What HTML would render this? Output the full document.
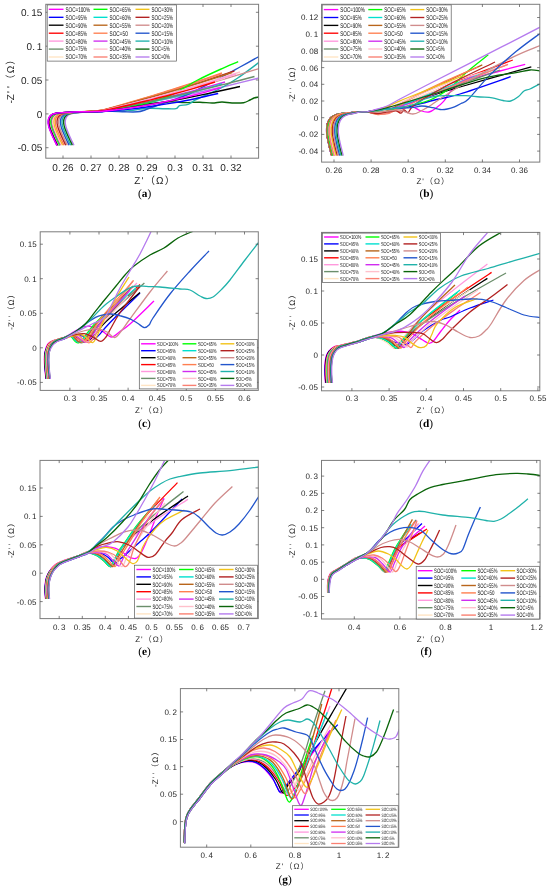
<!DOCTYPE html>
<html><head><meta charset="utf-8"><title>EIS Nyquist plots at different SOC</title>
<style>html,body{margin:0;padding:0;background:#fff}svg{display:block}text{text-rendering:geometricPrecision}</style></head>
<body><svg width="550" height="890" viewBox="0 0 550 890">
<rect width="550" height="890" fill="#fff"/>
<clipPath id="ca"><rect x="45.8" y="4.3" width="212.8" height="153.9"/></clipPath>
<g clip-path="url(#ca)" fill="none" stroke-width="1.4" stroke-linejoin="round" stroke-linecap="butt">
<path d="M73.9 145.3C73.5 144.4 72.3 141.9 71.4 140C70.5 138.1 69.5 135.9 68.7 134C67.9 132.1 67.1 130.2 66.5 128.5C65.9 126.8 65.5 125 65.3 123.5C65.1 122 65.2 120.7 65.5 119.5C65.8 118.3 66.3 117.2 67 116.3C67.7 115.4 68.7 114.7 69.7 114.2C70.7 113.7 71.6 113.5 73.2 113.2C74.8 112.9 76.6 112.8 79.2 112.6C81.8 112.4 84.8 112 88.6 111.8C92.4 111.6 94.5 112.2 102 111.2C109.5 110.1 122.9 107.5 133.4 105.6C143.9 103.6 154.3 101.6 164.8 99.4C175.3 97.3 185.7 95.1 196.2 92.8C206.7 90.5 217.1 88.1 227.6 85.7C238.1 83.2 253.8 79.3 259 78" stroke="#B57BEE"/>
<path d="M72.3 145.3C71.9 144.4 70.7 141.9 69.8 140C68.9 138.1 67.9 135.9 67.1 134C66.3 132.1 65.5 130.2 64.9 128.5C64.3 126.8 63.9 125 63.7 123.5C63.5 122 63.6 120.7 63.9 119.5C64.2 118.3 64.7 117.2 65.4 116.3C66.1 115.4 67.1 114.7 68.1 114.2C69.1 113.7 70 113.5 71.6 113.2C73.2 112.9 74.9 112.8 77.6 112.6C80.3 112.4 84.1 112.1 87.8 111.8C91.5 111.5 95.5 111.1 100 110.6C104.5 110.1 110 109.8 115 109C120 108.2 124.2 106.9 130 106C135.8 105.1 143.3 104.2 150 103.5C156.7 102.8 164.2 102.1 170 101.9C175.8 101.8 180 102.5 185 102.6C190 102.6 195.5 102.1 200 102.2C204.5 102.3 208.3 103 212 103C215.7 103 218.7 102 222 102C225.3 102 228.4 102.9 232 103C235.6 103.1 240.6 103.2 243.6 102.7C246.6 102.2 248.3 100.8 250 100C251.7 99.2 252.5 98.5 254 98C255.5 97.5 258.2 97.2 259 97" stroke="#0A640A"/>
<path d="M70.7 145.3C70.3 144.4 69.1 141.9 68.2 140C67.3 138.1 66.3 135.9 65.5 134C64.7 132.1 63.9 130.2 63.3 128.5C62.7 126.8 62.3 125 62.1 123.5C61.9 122 62 120.7 62.3 119.5C62.6 118.3 63.1 117.2 63.8 116.3C64.5 115.4 65.5 114.7 66.5 114.2C67.5 113.7 68.4 113.5 70 113.2C71.6 112.9 73.2 112.8 76 112.6C78.8 112.4 83 112.1 87 111.8C91 111.5 95.3 111.1 100 111C104.7 110.9 110 111.1 115 111C120 110.9 124.6 111 130 110.6C135.4 110.1 141.7 108.6 147.5 108.3C153.3 108 160.2 108.7 165 108.7C169.8 108.8 173.6 109.1 176 108.6C178.4 108.1 177.5 106.3 179.5 105.6C181.5 104.9 185.4 105.3 188 104.4C190.6 103.5 191.8 101.9 195 100.2C198.2 98.5 202.8 96.5 207 94.5C211.2 92.5 215.2 91.2 220.2 88.5C225.2 85.8 230.5 82.8 237 78.5C243.5 74.2 255.3 65.1 259 62.4" stroke="#20B2AA"/>
<path d="M69.1 145.3C68.7 144.4 67.5 141.9 66.6 140C65.7 138.1 64.7 135.9 63.9 134C63.1 132.1 62.3 130.2 61.7 128.5C61.1 126.8 60.7 125 60.5 123.5C60.3 122 60.4 120.7 60.7 119.5C61 118.3 61.5 117.2 62.2 116.3C62.9 115.4 63.9 114.7 64.9 114.2C65.9 113.7 66.8 113.5 68.4 113.2C70 112.9 71.4 112.8 74.4 112.6C77.4 112.4 81.9 112.1 86.2 111.8C90.5 111.5 95.7 111.1 100 111C104.3 110.9 107.8 111.2 112 111.3C116.2 111.4 120.7 111.7 125 111.8C129.3 111.9 134.3 112.1 137.6 111.8C140.9 111.5 142.9 110.6 145 110C147.1 109.4 145.8 109.5 150 108C154.2 106.5 163.3 103.4 170 101C176.7 98.6 181.7 97.3 190 93.5C198.3 89.7 211.7 82.4 220 78C228.3 73.6 233.5 70.6 240 67C246.5 63.4 255.8 58.2 259 56.5" stroke="#2255CC"/>
<path d="M67.3 145.3C66.9 144.4 65.7 141.9 64.8 140C63.9 138.1 62.9 135.9 62.1 134C61.3 132.1 60.5 130.2 59.9 128.5C59.3 126.8 58.9 125 58.7 123.5C58.5 122 58.6 120.7 58.9 119.5C59.2 118.3 59.7 117.2 60.4 116.3C61.1 115.4 62.1 114.7 63.1 114.2C64.1 113.7 65 113.5 66.6 113.2C68.2 112.9 69.5 112.8 72.6 112.6C75.7 112.4 80.4 112.1 85.3 111.8C90.2 111.5 94 112 102 110.6C110 109.2 122.9 105.9 133.4 103.4C143.9 100.8 154.3 98.2 164.8 95.5C175.3 92.8 185.7 90 196.2 87.1C206.7 84.2 217.1 81.2 227.6 78.2C238.1 75.1 253.8 70.2 259 68.6" stroke="#D08C8C"/>
<path d="M65.7 145.3C65.3 144.4 64.1 141.9 63.2 140C62.3 138.1 61.3 135.9 60.5 134C59.7 132.1 58.9 130.2 58.3 128.5C57.7 126.8 57.3 125 57.1 123.5C56.9 122 57 120.7 57.3 119.5C57.6 118.3 58.1 117.2 58.8 116.3C59.5 115.4 60.5 114.7 61.5 114.2C62.5 113.7 63.4 113.5 65 113.2C66.6 112.9 67.8 112.8 71 112.6C74.2 112.4 79.3 112.2 84.5 111.8C89.7 111.4 94.7 111.7 102 110.3C109.3 108.9 119.7 105.8 128.5 103.4C137.3 101 146.1 98.6 155 96C163.8 93.5 172.6 90.9 181.4 88.2C190.3 85.5 199.1 82.7 207.9 79.8C216.7 77 230 72.5 234.4 71" stroke="#B22222"/>
<path d="M62.5 145.3C62.1 144.4 60.9 141.9 60 140C59.1 138.1 58.1 135.9 57.3 134C56.5 132.1 55.7 130.2 55.1 128.5C54.5 126.8 54.1 125 53.9 123.5C53.7 122 53.8 120.7 54.1 119.5C54.4 118.3 54.9 117.2 55.6 116.3C56.3 115.4 57.3 114.7 58.3 114.2C59.3 113.7 60.2 113.5 61.8 113.2C63.4 112.9 64.3 112.8 67.8 112.6C71.3 112.4 77.2 112.2 82.9 111.8C88.6 111.4 95.4 111.5 102 110.3C108.6 109.1 115.7 106.6 122.6 104.6C129.5 102.7 136.3 100.7 143.2 98.7C150.1 96.7 156.9 94.7 163.8 92.6C170.7 90.5 177.5 88.3 184.4 86.2C191.3 84 201.6 80.6 205 79.5" stroke="#F2C318"/>
<path d="M60.5 145.3C60.1 144.4 58.9 141.9 58 140C57.1 138.1 56.1 135.9 55.3 134C54.5 132.1 53.7 130.2 53.1 128.5C52.5 126.8 52.1 125 51.9 123.5C51.7 122 51.8 120.7 52.1 119.5C52.4 118.3 52.9 117.2 53.6 116.3C54.3 115.4 55.3 114.7 56.3 114.2C57.3 113.7 58.2 113.5 59.8 113.2C61.4 112.9 62.1 112.8 65.8 112.6C69.5 112.4 75.9 112.2 81.9 111.8C87.9 111.4 94.7 111.6 102 110.2C109.3 108.9 117.9 106 125.8 103.8C133.7 101.5 141.7 99.2 149.6 96.9C157.5 94.5 165.5 92.1 173.4 89.6C181.3 87.2 189.3 84.6 197.2 82C205.1 79.4 217 75.3 221 74" stroke="#FA8072"/>
<path d="M61.2 145.3C60.8 144.4 59.6 141.9 58.7 140C57.8 138.1 56.8 135.9 56 134C55.2 132.1 54.4 130.2 53.8 128.5C53.2 126.8 52.8 125 52.6 123.5C52.4 122 52.5 120.7 52.8 119.5C53.1 118.3 53.6 117.2 54.3 116.3C55 115.4 56 114.7 57 114.2C58 113.7 58.9 113.5 60.5 113.2C62.1 112.9 62.9 112.8 66.5 112.6C70.1 112.4 76.3 112.2 82.2 111.8C88.2 111.4 94.1 111.8 102 110.5C109.9 109.1 120.4 106 129.6 103.7C138.8 101.4 148 98.9 157.2 96.4C166.4 94 175.6 91.4 184.8 88.7C194 86.1 203.2 83.4 212.4 80.6C221.6 77.8 235.4 73.4 240 72" stroke="#FFC0CB"/>
<path d="M59.9 145.3C59.5 144.4 58.3 141.9 57.4 140C56.5 138.1 55.5 135.9 54.7 134C53.9 132.1 53.1 130.2 52.5 128.5C51.9 126.8 51.5 125 51.3 123.5C51.1 122 51.2 120.7 51.5 119.5C51.8 118.3 52.3 117.2 53 116.3C53.7 115.4 54.7 114.7 55.7 114.2C56.7 113.7 57.6 113.5 59.2 113.2C60.8 112.9 61.5 112.8 65.2 112.6C68.9 112.4 75.5 112.1 81.6 111.8C87.7 111.5 94.5 111.8 102 110.9C109.5 110 118.4 107.9 126.6 106.3C134.8 104.7 143 102.9 151.2 101.1C159.4 99.3 167.6 97.3 175.8 95.3C184 93.3 192.2 91.2 200.4 88.9C208.6 86.7 220.9 83.2 225 82" stroke="#D02CF0"/>
<path d="M64 145.3C63.6 144.4 62.4 141.9 61.5 140C60.6 138.1 59.6 135.9 58.8 134C58 132.1 57.2 130.2 56.6 128.5C56 126.8 55.6 125 55.4 123.5C55.2 122 55.3 120.7 55.6 119.5C55.9 118.3 56.4 117.2 57.1 116.3C57.8 115.4 58.8 114.7 59.8 114.2C60.8 113.7 61.7 113.5 63.3 113.2C64.9 112.9 65.9 112.8 69.3 112.6C72.7 112.4 78.2 112.2 83.7 111.8C89.1 111.4 94.9 111.6 102 110.2C109.1 108.8 118 105.7 126 103.4C134 101.1 142 98.7 150 96.3C158 93.8 166 91.4 174 88.8C182 86.3 190 83.7 198 81.1C206 78.4 218 74.3 222 73" stroke="#FF7F50"/>
<path d="M59.7 145.3C59.3 144.4 58.1 141.9 57.2 140C56.3 138.1 55.3 135.9 54.5 134C53.7 132.1 52.9 130.2 52.3 128.5C51.7 126.8 51.3 125 51.1 123.5C50.9 122 51 120.7 51.3 119.5C51.6 118.3 52.1 117.2 52.8 116.3C53.5 115.4 54.5 114.7 55.5 114.2C56.5 113.7 57.4 113.5 59 113.2C60.6 112.9 61.2 112.8 65 112.6C68.8 112.4 75.3 112.2 81.5 111.8C87.7 111.4 94.2 111.7 102 110.4C109.8 109 119.3 105.9 128 103.6C136.7 101.2 145.3 98.8 154 96.4C162.7 93.9 171.3 91.4 180 88.8C188.7 86.2 197.3 83.6 206 80.8C214.7 78.1 227.7 73.9 232 72.5" stroke="#B8651B"/>
<path d="M59.3 145.3C58.9 144.4 57.7 141.9 56.8 140C55.9 138.1 54.9 135.9 54.1 134C53.3 132.1 52.5 130.2 51.9 128.5C51.3 126.8 50.9 125 50.7 123.5C50.5 122 50.6 120.7 50.9 119.5C51.2 118.3 51.7 117.2 52.4 116.3C53.1 115.4 54.1 114.7 55.1 114.2C56.1 113.7 57 113.5 58.6 113.2C60.2 112.9 60.8 112.8 64.6 112.6C68.4 112.4 75.1 112.1 81.3 111.8C87.5 111.5 94.5 111.8 102 111C109.5 110.2 118 108.5 126 107C134 105.6 142 104 150 102.3C158 100.6 166 98.8 174 96.9C182 95 190 93 198 90.8C206 88.7 218 85.1 222 84" stroke="#00E0D0"/>
<path d="M58.9 145.3C58.5 144.4 57.3 141.9 56.4 140C55.5 138.1 54.5 135.9 53.7 134C52.9 132.1 52.1 130.2 51.5 128.5C50.9 126.8 50.5 125 50.3 123.5C50.1 122 50.2 120.7 50.5 119.5C50.8 118.3 51.3 117.2 52 116.3C52.7 115.4 53.7 114.7 54.7 114.2C55.7 113.7 56.6 113.5 58.2 113.2C59.8 112.9 60.4 112.8 64.2 112.6C68 112.4 74.8 112.1 81.1 111.8C87.4 111.5 92.2 112.2 102 111C111.8 109.8 128.7 107.1 140 104.5C151.3 101.9 160.5 99.5 170 95.5C179.5 91.5 188.5 84.8 196.8 80.5C205.1 76.2 213.1 72.6 220 69.5C226.9 66.4 235.2 63 238.2 61.7" stroke="#00FF00"/>
<path d="M58.1 145.3C57.7 144.4 56.5 141.9 55.6 140C54.7 138.1 53.7 135.9 52.9 134C52.1 132.1 51.3 130.2 50.7 128.5C50.1 126.8 49.7 125 49.5 123.5C49.3 122 49.4 120.7 49.7 119.5C50 118.3 50.5 117.2 51.2 116.3C51.9 115.4 52.9 114.7 53.9 114.2C54.9 113.7 55.8 113.5 57.4 113.2C59 112.9 59.5 112.8 63.4 112.6C67.3 112.4 74.3 112.1 80.7 111.8C87.1 111.5 94.3 111.8 102 110.6C109.7 109.5 118.4 106.9 126.6 104.9C134.8 102.9 143 100.8 151.2 98.7C159.4 96.6 167.6 94.4 175.8 92.2C184 90 192.2 87.7 200.4 85.3C208.6 82.9 220.9 79.2 225 78" stroke="#FFE4C4"/>
<path d="M57.9 145.3C57.5 144.4 56.3 141.9 55.4 140C54.5 138.1 53.5 135.9 52.7 134C51.9 132.1 51.1 130.2 50.5 128.5C49.9 126.8 49.5 125 49.3 123.5C49.1 122 49.2 120.7 49.5 119.5C49.8 118.3 50.3 117.2 51 116.3C51.7 115.4 52.7 114.7 53.7 114.2C54.7 113.7 55.6 113.5 57.2 113.2C58.8 112.9 59.3 112.8 63.2 112.6C67.1 112.4 74.1 112.1 80.6 111.8C87.1 111.5 93.3 112.1 102 111C110.7 109.9 122.3 107.2 132.5 105.1C142.7 103.1 152.8 101 163 98.7C173.2 96.5 183.3 94.2 193.5 91.8C203.7 89.5 213.8 87 224 84.4C234.2 81.9 249.4 77.8 254.5 76.5" stroke="#6B8E6B"/>
<path d="M57.7 145.3C57.3 144.4 56.1 141.9 55.2 140C54.3 138.1 53.3 135.9 52.5 134C51.7 132.1 50.9 130.2 50.3 128.5C49.7 126.8 49.3 125 49.1 123.5C48.9 122 49 120.7 49.3 119.5C49.6 118.3 50.1 117.2 50.8 116.3C51.5 115.4 52.5 114.7 53.5 114.2C54.5 113.7 55.4 113.5 57 113.2C58.6 112.9 59.1 112.8 63 112.6C66.9 112.4 74 112.1 80.5 111.8C87 111.5 94 111.8 102 110.6C110 109.3 119.9 106.5 128.8 104.3C137.7 102.1 146.7 99.8 155.6 97.5C164.5 95.1 173.5 92.7 182.4 90.2C191.3 87.6 200.3 85 209.2 82.3C218.1 79.6 231.5 75.4 236 74" stroke="#FF99DD"/>
<path d="M57.5 145.3C57.1 144.4 55.9 141.9 55 140C54.1 138.1 53.1 135.9 52.3 134C51.5 132.1 50.7 130.2 50.1 128.5C49.5 126.8 49.1 125 48.9 123.5C48.7 122 48.8 120.7 49.1 119.5C49.4 118.3 49.9 117.2 50.6 116.3C51.3 115.4 52.3 114.7 53.3 114.2C54.3 113.7 55.2 113.5 56.8 113.2C58.4 112.9 58.9 112.8 62.8 112.6C66.7 112.4 73.9 112.1 80.4 111.8C86.9 111.5 94.6 111.7 102 110.7C109.4 109.8 117.1 107.7 124.6 106C132.1 104.4 139.7 102.6 147.2 100.8C154.7 98.9 162.3 97 169.8 95C177.3 93 184.9 90.9 192.4 88.8C199.9 86.6 211.2 83.1 215 82" stroke="#FF0000"/>
<path d="M57.2 145.3C56.8 144.4 55.6 141.9 54.7 140C53.8 138.1 52.8 135.9 52 134C51.2 132.1 50.4 130.2 49.8 128.5C49.2 126.8 48.8 125 48.6 123.5C48.4 122 48.5 120.7 48.8 119.5C49.1 118.3 49.6 117.2 50.3 116.3C51 115.4 52 114.7 53 114.2C54 113.7 54.9 113.5 56.5 113.2C58.1 112.9 58.5 112.8 62.5 112.6C66.5 112.4 73.7 112 80.2 111.8C86.8 111.6 93.8 112.2 102 111.5C110.2 110.8 120.4 109 129.6 107.6C138.8 106.2 148 104.8 157.2 103.2C166.4 101.6 175.6 100 184.8 98.2C194 96.5 203.2 94.6 212.4 92.6C221.6 90.7 235.4 87.5 240 86.5" stroke="#000000"/>
<path d="M57 145.3C56.6 144.4 55.4 141.9 54.5 140C53.6 138.1 52.6 135.9 51.8 134C51 132.1 50.2 130.2 49.6 128.5C49 126.8 48.6 125 48.4 123.5C48.2 122 48.3 120.7 48.6 119.5C48.9 118.3 49.4 117.2 50.1 116.3C50.8 115.4 51.8 114.7 52.8 114.2C53.8 113.7 54.7 113.5 56.3 113.2C57.9 112.9 58.3 112.8 62.3 112.6C66.3 112.4 73.5 111.9 80.2 111.8C86.8 111.7 94.5 112.1 102 111.7C109.5 111.3 117.5 110.4 125.2 109.6C133 108.8 140.7 107.8 148.5 106.7C156.2 105.6 164 104.4 171.7 103.1C179.5 101.7 187.2 100.3 195 98.7C202.7 97.1 214.3 94.4 218.2 93.5" stroke="#0000FF"/>
<path d="M56.7 145.3C56.3 144.4 55.1 141.9 54.2 140C53.3 138.1 52.3 135.9 51.5 134C50.7 132.1 49.9 130.2 49.3 128.5C48.7 126.8 48.3 125 48.1 123.5C47.9 122 48 120.7 48.3 119.5C48.6 118.3 49.1 117.2 49.8 116.3C50.5 115.4 51.5 114.7 52.5 114.2C53.5 113.7 54.4 113.5 56 113.2C57.6 112.9 58 112.8 62 112.6C66 112.4 73.3 112 80 111.8C86.7 111.6 94.4 111.8 102 111.3C109.6 110.7 117.9 109.6 125.8 108.5C133.7 107.4 141.7 106.1 149.6 104.7C157.5 103.3 165.5 101.8 173.4 100C181.3 98.3 189.3 96.4 197.2 94.3C205.1 92.3 217 88.8 221 87.7" stroke="#FF00FF"/>
</g>
<rect x="45.8" y="4.3" width="212.8" height="153.9" fill="none" stroke="#7c7c7c" stroke-width="1"/>
<path d="M63 158.2v-2.7 M63 4.3v2.7M91 158.2v-2.7 M91 4.3v2.7M119 158.2v-2.7 M119 4.3v2.7M147 158.2v-2.7 M147 4.3v2.7M175 158.2v-2.7 M175 4.3v2.7M203 158.2v-2.7 M203 4.3v2.7M231 158.2v-2.7 M231 4.3v2.7M45.8 12.3h2.7 M258.6 12.3h-2.7M45.8 46.2h2.7 M258.6 46.2h-2.7M45.8 80h2.7 M258.6 80h-2.7M45.8 113.9h2.7 M258.6 113.9h-2.7M45.8 147.7h2.7 M258.6 147.7h-2.7" stroke="#4a4a4a" stroke-width="0.7" fill="none"/>
<g fill="#262626" font-family='"Liberation Sans","Noto Sans CJK SC",sans-serif'>
<text x="63" y="170.6" font-size="10" text-anchor="middle">0.<tspan dx="1.8">26</tspan></text>
<text x="91" y="170.6" font-size="10" text-anchor="middle">0.<tspan dx="1.8">27</tspan></text>
<text x="119" y="170.6" font-size="10" text-anchor="middle">0.<tspan dx="1.8">28</tspan></text>
<text x="147" y="170.6" font-size="10" text-anchor="middle">0.<tspan dx="1.8">29</tspan></text>
<text x="175" y="170.6" font-size="10" text-anchor="middle">0.<tspan dx="1.8">3</tspan></text>
<text x="203" y="170.6" font-size="10" text-anchor="middle">0.<tspan dx="1.8">31</tspan></text>
<text x="231" y="170.6" font-size="10" text-anchor="middle">0.<tspan dx="1.8">32</tspan></text>
<text x="42.3" y="15.9" font-size="10" text-anchor="end">0.<tspan dx="1.8">15</tspan></text>
<text x="42.3" y="49.8" font-size="10" text-anchor="end">0.<tspan dx="1.8">1</tspan></text>
<text x="42.3" y="83.6" font-size="10" text-anchor="end">0.<tspan dx="1.8">05</tspan></text>
<text x="42.3" y="117.5" font-size="10" text-anchor="end">0</text>
<text x="42.3" y="151.3" font-size="10" text-anchor="end">-0.<tspan dx="1.8">05</tspan></text>
<text x="154.5" y="183.9" font-size="10" text-anchor="middle">Z<tspan dx="1.2">'</tspan><tspan dx="1.5">（</tspan><tspan dx="1.2">Ω</tspan><tspan dx="1.2">）</tspan></text>
<text transform="translate(14.3 79.1) rotate(-90)" font-size="10" text-anchor="middle">-Z<tspan dx="1.2">'</tspan><tspan dx="3">'</tspan><tspan dx="1.5">（</tspan><tspan dx="1.2">Ω</tspan><tspan dx="1.2">）</tspan></text>
</g>
<text x="144.6" y="196.7" font-family='"Liberation Serif",serif' font-size="11.3" text-anchor="middle" fill="#000">(<tspan font-weight="bold">a</tspan>)</text>
<rect x="47.2" y="4.9" width="129.3" height="56.2" fill="#fff" stroke="#5a5a5a" stroke-width="0.7"/>
<g font-family='"Liberation Sans","Noto Sans CJK SC",sans-serif' font-size="6.8" fill="#111">
<path d="M48.8 9.3h14.7" stroke="#FF00FF" stroke-width="1.35"/>
<text x="65.5" y="11.7" textLength="24.5" lengthAdjust="spacingAndGlyphs">SOC=100%</text>
<path d="M48.8 17.3h14.7" stroke="#0000FF" stroke-width="1.35"/>
<text x="65.5" y="19.6" textLength="21.4" lengthAdjust="spacingAndGlyphs">SOC=95%</text>
<path d="M48.8 25.2h14.7" stroke="#000000" stroke-width="1.35"/>
<text x="65.5" y="27.6" textLength="21.4" lengthAdjust="spacingAndGlyphs">SOC=90%</text>
<path d="M48.8 33.2h14.7" stroke="#FF0000" stroke-width="1.35"/>
<text x="65.5" y="35.5" textLength="21.4" lengthAdjust="spacingAndGlyphs">SOC=85%</text>
<path d="M48.8 41.1h14.7" stroke="#FF99DD" stroke-width="1.35"/>
<text x="65.5" y="43.5" textLength="21.4" lengthAdjust="spacingAndGlyphs">SOC=80%</text>
<path d="M48.8 49.1h14.7" stroke="#6B8E6B" stroke-width="1.35"/>
<text x="65.5" y="51.4" textLength="21.4" lengthAdjust="spacingAndGlyphs">SOC=75%</text>
<path d="M48.8 57h14.7" stroke="#FFE4C4" stroke-width="1.35"/>
<text x="65.5" y="59.3" textLength="21.4" lengthAdjust="spacingAndGlyphs">SOC=70%</text>
<path d="M93.5 9.3h14" stroke="#00FF00" stroke-width="1.35"/>
<text x="109.5" y="11.7" textLength="21.4" lengthAdjust="spacingAndGlyphs">SOC=65%</text>
<path d="M93.5 17.3h14" stroke="#00E0D0" stroke-width="1.35"/>
<text x="109.5" y="19.6" textLength="21.4" lengthAdjust="spacingAndGlyphs">SOC=60%</text>
<path d="M93.5 25.2h14" stroke="#B8651B" stroke-width="1.35"/>
<text x="109.5" y="27.6" textLength="21.4" lengthAdjust="spacingAndGlyphs">SOC=55%</text>
<path d="M93.5 33.2h14" stroke="#FF7F50" stroke-width="1.35"/>
<text x="109.5" y="35.5" textLength="18.3" lengthAdjust="spacingAndGlyphs">SOC=50</text>
<path d="M93.5 41.1h14" stroke="#D02CF0" stroke-width="1.35"/>
<text x="109.5" y="43.5" textLength="21.4" lengthAdjust="spacingAndGlyphs">SOC=45%</text>
<path d="M93.5 49.1h14" stroke="#FFC0CB" stroke-width="1.35"/>
<text x="109.5" y="51.4" textLength="21.4" lengthAdjust="spacingAndGlyphs">SOC=40%</text>
<path d="M93.5 57h14" stroke="#FA8072" stroke-width="1.35"/>
<text x="109.5" y="59.3" textLength="21.4" lengthAdjust="spacingAndGlyphs">SOC=35%</text>
<path d="M135.5 9.3h14" stroke="#F2C318" stroke-width="1.35"/>
<text x="151.5" y="11.7" textLength="21.4" lengthAdjust="spacingAndGlyphs">SOC=30%</text>
<path d="M135.5 17.3h14" stroke="#B22222" stroke-width="1.35"/>
<text x="151.5" y="19.6" textLength="21.4" lengthAdjust="spacingAndGlyphs">SOC=25%</text>
<path d="M135.5 25.2h14" stroke="#D08C8C" stroke-width="1.35"/>
<text x="151.5" y="27.6" textLength="21.4" lengthAdjust="spacingAndGlyphs">SOC=20%</text>
<path d="M135.5 33.2h14" stroke="#2255CC" stroke-width="1.35"/>
<text x="151.5" y="35.5" textLength="21.4" lengthAdjust="spacingAndGlyphs">SOC=15%</text>
<path d="M135.5 41.1h14" stroke="#20B2AA" stroke-width="1.35"/>
<text x="151.5" y="43.5" textLength="21.4" lengthAdjust="spacingAndGlyphs">SOC=10%</text>
<path d="M135.5 49.1h14" stroke="#0A640A" stroke-width="1.35"/>
<text x="151.5" y="51.4" textLength="18.3" lengthAdjust="spacingAndGlyphs">SOC=5%</text>
<path d="M135.5 57h14" stroke="#B57BEE" stroke-width="1.35"/>
<text x="151.5" y="59.3" textLength="18.3" lengthAdjust="spacingAndGlyphs">SOC=0%</text>
</g>
<clipPath id="cb"><rect x="321.6" y="4.3" width="218.2" height="157.8"/></clipPath>
<g clip-path="url(#cb)" fill="none" stroke-width="1.3" stroke-linejoin="round" stroke-linecap="butt">
<path d="M331.5 155.6C331 153.7 329.4 147.8 328.6 144C327.8 140.2 326.8 136.3 326.6 133C326.4 129.7 326.6 126.5 327.2 124C327.8 121.5 329.1 119.3 330.5 117.8C331.9 116.3 333.6 115.5 335.5 114.8C337.4 114.1 339.4 113.9 341.8 113.5C344.2 113.1 346.6 112.9 350 112.6C353.4 112.3 359.2 112 362 111.9C364.8 111.8 364.8 112.1 367 111.8C369.2 111.5 371.7 110.8 375 110C378.3 109.2 382.8 107.6 387 107C391.2 106.4 395.7 106.5 400 106.5C404.3 106.5 409.4 106.1 412.7 106.8C416 107.5 417.3 109.6 420 110.5C422.7 111.4 426.3 112.5 429 112C431.7 111.5 434 109.5 436.4 107.7C438.8 105.9 440.9 104.5 443.6 101.4C446.3 98.3 449.1 92.2 452.7 89C456.3 85.8 460.6 84 465 82C469.4 80 473.2 78.5 479 76.7C484.8 74.9 492.3 73.1 500 71C507.7 68.9 521 65.4 525.2 64.3" stroke="#FF00FF"/>
<path d="M331.6 155.6C331.1 153.7 329.5 147.8 328.7 144C327.8 140.2 326.9 136.3 326.7 133C326.4 129.7 326.6 126.5 327.2 124C327.9 121.5 329.2 119.3 330.6 117.8C331.9 116.3 333.7 115.5 335.6 114.8C337.4 114.1 339.4 113.9 341.9 113.5C344.3 113.1 346.7 112.9 350 112.6C353.4 112.3 359.2 112 362 111.9C364.8 111.8 364 112 367 111.8C370 111.6 375.8 111.3 380 110.8C384.2 110.3 387.8 109.5 392 109C396.2 108.5 398.7 109.1 405.5 107.7C412.3 106.3 423.6 102.8 432.7 100.5C441.8 98.2 447 98 460 94C473 90 502.2 79.6 510.7 76.7" stroke="#0000FF"/>
<path d="M331.6 155.6C331.1 153.7 329.5 147.8 328.7 144C327.9 140.2 326.9 136.3 326.7 133C326.5 129.7 326.7 126.5 327.3 124C327.9 121.5 329.2 119.3 330.6 117.8C332 116.3 333.7 115.5 335.6 114.8C337.5 114.1 339.5 113.9 341.9 113.5C344.3 113.1 346.7 112.9 350.1 112.6C353.4 112.3 359.2 112 362 111.9C364.8 111.8 364 112.1 367 111.8C370 111.5 374.5 111.3 380 110.3C385.5 109.2 386.7 109.4 400 105.5C413.3 101.6 438.1 93.4 460 87C481.9 80.6 519.4 70.2 531.3 66.9" stroke="#000000"/>
<path d="M331.6 155.6C331.2 153.7 329.6 147.8 328.8 144C327.9 140.2 327 136.3 326.8 133C326.5 129.7 326.7 126.5 327.3 124C328 121.5 329.3 119.3 330.6 117.8C332 116.3 333.8 115.5 335.6 114.8C337.5 114.1 339.5 113.9 341.9 113.5C344.4 113.1 346.7 112.9 350.1 112.6C353.4 112.3 359.2 112 362 111.9C364.8 111.8 364 111.9 367 111.8C370 111.7 374.5 112.4 380 111.2C385.5 110 391.7 107.5 400 104.5C408.3 101.5 420 97.1 430 93C440 88.9 446.2 85.5 460 80C473.8 74.5 504 63.3 512.8 60" stroke="#FF0000"/>
<path d="M331.7 155.6C331.2 153.7 329.6 147.8 328.8 144C328 140.2 327 136.3 326.8 133C326.6 129.7 326.8 126.5 327.4 124C328 121.5 329.3 119.3 330.7 117.8C332.1 116.3 333.8 115.5 335.7 114.8C337.6 114.1 339.6 113.9 342 113.5C344.4 113.1 346.8 112.9 350.1 112.6C353.5 112.3 359.2 112 362 111.9C364.8 111.8 364 111.8 367 111.8C370 111.8 374.5 112.7 380 111.6C385.5 110.5 388.3 109.4 400 105C411.7 100.6 432 91.8 450 85C468 78.2 498.3 67.8 508 64.3" stroke="#FF99DD"/>
<path d="M331.8 155.6C331.3 153.7 329.7 147.8 328.9 144C328 140.2 327.1 136.3 326.9 133C326.6 129.7 326.8 126.5 327.4 124C328.1 121.5 329.4 119.3 330.8 117.8C332.1 116.3 333.9 115.5 335.8 114.8C337.6 114.1 339.7 113.9 342.1 113.5C344.4 113.1 346.8 112.9 350.1 112.6C353.5 112.3 359.2 112 362 111.9C364.8 111.8 364 112 367 111.8C370 111.6 374.5 111.6 380 110.5C385.5 109.4 388.3 108.8 400 105C411.7 101.2 433.3 93.8 450 88C466.7 82.2 491.7 73 500 70" stroke="#6B8E6B"/>
<path d="M331.8 155.6C331.3 153.7 329.7 147.8 328.9 144C328.1 140.2 327.1 136.3 326.9 133C326.7 129.7 326.9 126.5 327.5 124C328.1 121.5 329.4 119.3 330.8 117.8C332.2 116.3 333.9 115.5 335.8 114.8C337.7 114.1 339.7 113.9 342.1 113.5C344.5 113.1 346.9 112.9 350.2 112.6C353.5 112.3 359.2 112 362 111.9C364.8 111.8 364 111.8 367 111.8C370 111.8 374.5 113.3 380 112C385.5 110.7 390.8 107.6 400 104C409.2 100.4 423.3 94.8 435 90.5C446.7 86.2 464.2 80.1 470 78" stroke="#FFE4C4"/>
<path d="M332.8 155.6C332.3 153.7 330.7 147.8 329.9 144C329.1 140.2 328.1 136.3 327.9 133C327.7 129.7 327.9 126.5 328.5 124C329.1 121.5 330.4 119.3 331.8 117.8C333.2 116.3 334.9 115.5 336.8 114.8C338.7 114.1 340.8 113.9 343.1 113.5C345.4 113.1 347.6 112.9 350.8 112.6C353.9 112.3 359.3 112 362 111.9C364.7 111.8 364 112 367 111.8C370 111.6 374.5 111.6 380 111C385.5 110.4 391.7 109.8 400 108C408.3 106.2 421.7 103.3 430 100C438.3 96.7 444 92.5 450 88C456 83.5 459.6 78.2 466 72.7C472.4 67.2 484.6 57.8 488.3 54.8" stroke="#00FF00"/>
<path d="M331.9 155.6C331.4 153.7 329.8 147.8 329 144C328.1 140.2 327.2 136.3 327 133C326.7 129.7 326.9 126.5 327.6 124C328.2 121.5 329.5 119.3 330.9 117.8C332.2 116.3 334 115.5 335.9 114.8C337.7 114.1 339.8 113.9 342.2 113.5C344.5 113.1 346.9 112.9 350.2 112.6C353.5 112.3 359.2 112 362 111.9C364.8 111.8 364 112.1 367 111.8C370 111.5 374.5 111 380 110C385.5 109 389.2 109.7 400 106C410.8 102.3 429.4 94.2 445 88C460.6 81.8 485.5 72 493.6 68.8" stroke="#00E0D0"/>
<path d="M331.7 155.6C331.2 153.7 329.6 147.8 328.8 144C328 140.2 327 136.3 326.8 133C326.6 129.7 326.8 126.5 327.4 124C328 121.5 329.3 119.3 330.7 117.8C332.1 116.3 333.8 115.5 335.7 114.8C337.6 114.1 339.6 113.9 342 113.5C344.4 113.1 346.8 112.9 350.1 112.6C353.5 112.3 359.2 112 362 111.9C364.8 111.8 364.3 111.6 367 111.8C369.7 112 374.2 113.3 378 113C381.8 112.7 386.3 111.5 390 110C393.7 108.5 391.7 108.2 400 104C408.3 99.8 426.3 91 440 84.5C453.7 78 475.2 68.1 482.3 64.8" stroke="#B8651B"/>
<path d="M334.1 155.6C333.6 153.7 332 147.8 331.2 144C330.4 140.2 329.4 136.3 329.2 133C329 129.7 329.2 126.5 329.8 124C330.4 121.5 331.7 119.3 333.1 117.8C334.5 116.3 336.2 115.5 338.1 114.8C340 114.1 342.2 113.9 344.4 113.5C346.6 113.1 348.6 112.9 351.6 112.6C354.5 112.3 359.4 112 362 111.9C364.6 111.8 364.3 111.3 367 111.8C369.7 112.2 374.2 114.5 378 114.6C381.8 114.7 386.3 113.8 390 112.5C393.7 111.2 396.7 108.8 400 106.5C403.3 104.2 403.3 102.3 410 98.5C416.7 94.7 428.7 88.8 440 83.5C451.3 78.2 471.7 69.8 478 67" stroke="#FF7F50"/>
<path d="M334.5 155.6C334 153.7 332.4 147.8 331.6 144C330.8 140.2 329.8 136.3 329.6 133C329.4 129.7 329.6 126.5 330.2 124C330.8 121.5 332.1 119.3 333.5 117.8C334.9 116.3 336.6 115.5 338.5 114.8C340.4 114.1 342.6 113.9 344.8 113.5C347 113.1 348.9 112.9 351.8 112.6C354.7 112.3 359.5 112 362 111.9C364.5 111.8 364 112.1 367 111.8C370 111.5 374.5 110.9 380 110C385.5 109.1 390 109.5 400 106.5C410 103.5 427.5 97.2 440 92C452.5 86.8 469.2 77.8 475 75" stroke="#D02CF0"/>
<path d="M335 155.6C334.5 153.7 332.9 147.8 332.1 144C331.3 140.2 330.3 136.3 330.1 133C329.9 129.7 330.1 126.5 330.7 124C331.3 121.5 332.6 119.3 334 117.8C335.4 116.3 337.1 115.5 339 114.8C340.9 114.1 343.1 113.9 345.3 113.5C347.5 113.1 349.3 112.9 352.1 112.6C354.9 112.3 359.5 112 362 111.9C364.5 111.8 364 111.7 367 111.8C370 111.9 374.5 113.9 380 112.4C385.5 110.9 388.3 108 400 103C411.7 98 432.5 88.7 450 82.5C467.5 76.3 495.8 68.8 505 66" stroke="#FFC0CB"/>
<path d="M333.9 155.6C333.4 153.7 331.8 147.8 331 144C330.2 140.2 329.2 136.3 329 133C328.8 129.7 328.9 126.5 329.6 124C330.2 121.5 331.5 119.3 332.9 117.8C334.3 116.3 336 115.5 337.9 114.8C339.8 114.1 341.9 113.9 344.2 113.5C346.5 113.1 348.5 112.9 351.4 112.6C354.4 112.3 359.4 112 362 111.9C364.6 111.8 364.3 111.5 367 111.8C369.7 112.1 374.5 113.7 378 114C381.5 114.3 385.2 114.1 388 113.5C390.8 112.9 393 110.8 395 110.5C397 110.2 398.3 111.9 400 111.5C401.7 111.1 402.5 109.6 405 108C407.5 106.4 407.5 105.5 415 102C422.5 98.5 434.5 93.3 450 87C465.5 80.7 498.3 68.1 508 64.3" stroke="#FA8072"/>
<path d="M336.1 155.6C335.6 153.7 334 147.8 333.2 144C332.4 140.2 331.4 136.3 331.2 133C331 129.7 331.2 126.5 331.8 124C332.4 121.5 333.7 119.3 335.1 117.8C336.5 116.3 338.2 115.5 340.1 114.8C342 114.1 344.3 113.9 346.4 113.5C348.5 113.1 350.2 112.9 352.8 112.6C355.4 112.3 359.6 112 362 111.9C364.4 111.8 364 112.2 367 111.8C370 111.4 374.5 111.4 380 109.6C385.5 107.8 391.3 104.4 400 100.8C408.7 97.2 421.2 92.3 432 88C442.8 83.7 459.5 77.2 465 75" stroke="#F2C318"/>
<path d="M337.3 155.6C336.8 153.7 335.2 147.8 334.4 144C333.6 140.2 332.6 136.3 332.4 133C332.2 129.7 332.4 126.5 333 124C333.6 121.5 334.9 119.3 336.3 117.8C337.7 116.3 339.4 115.5 341.3 114.8C343.2 114.1 345.6 113.9 347.6 113.5C349.6 113.1 351.1 112.9 353.5 112.6C355.9 112.3 359.7 112 362 111.9C364.3 111.8 364.3 111.5 367 111.8C369.7 112.1 374.2 113.6 378 113.6C381.8 113.5 387 112 390 111.5C393 111 394.2 110.5 396 110.8C397.8 111.1 399.7 113.3 401 113.2C402.3 113.1 402.8 110.1 404 110C405.2 109.9 406.7 113 408 112.5C409.3 112 410 108.9 412 107C414 105.1 413.7 104.8 420 101C426.3 97.2 437.5 90.5 450 84C462.5 77.5 487.5 65.7 495 62" stroke="#B22222"/>
<path d="M338.5 155.6C338 153.7 336.4 147.8 335.6 144C334.8 140.2 333.8 136.3 333.6 133C333.4 129.7 333.6 126.5 334.2 124C334.8 121.5 336.1 119.3 337.5 117.8C338.9 116.3 340.6 115.5 342.5 114.8C344.4 114.1 346.9 113.9 348.8 113.5C350.8 113.1 352 112.9 354.2 112.6C356.4 112.3 359.9 112 362 111.9C364.1 111.8 364 111.8 367 111.8C370 111.8 375.8 112.2 380 112C384.2 111.8 388.7 110.8 392 110.5C395.3 110.2 396.6 109.4 400 110C403.4 110.6 409.1 113.9 412.7 114C416.3 114.1 418.6 112.1 421.8 110.5C425 108.9 429 106.4 432 104.5C435 102.6 433.7 103.1 440 99C446.3 94.9 457.8 87 470 80C482.2 73 501.7 62.6 513.4 56.9C525.1 51.2 535.6 47.5 540 45.6" stroke="#D08C8C"/>
<path d="M339.7 155.6C339.2 153.7 337.6 147.8 336.8 144C336 140.2 335 136.3 334.8 133C334.6 129.7 334.8 126.5 335.4 124C336 121.5 337.3 119.3 338.7 117.8C340.1 116.3 341.8 115.5 343.7 114.8C345.6 114.1 348.1 113.9 350 113.5C351.9 113.1 352.9 112.9 354.9 112.6C356.9 112.3 360 112 362 111.9C364 111.8 364 112.2 367 111.8C370 111.4 375.3 110.2 380 109.6C384.7 109 389.8 108.5 395 108.2C400.2 107.9 406.5 108.1 411 107.7C415.5 107.3 418.2 106 421.8 106C425.4 106 429.7 107.1 432.7 107.7C435.7 108.3 437.6 109.3 440 109.5C442.4 109.7 444.9 109.5 447.3 109C449.7 108.5 452.2 107.7 454.5 106.8C456.8 105.9 458.7 104.8 461 103.5C463.3 102.2 463.7 103.7 468.5 99C473.3 94.3 481.7 83.3 489.6 75.4C497.5 67.5 507.6 58.6 516 51.6C524.4 44.6 536 36.5 540 33.5" stroke="#2255CC"/>
<path d="M340.9 155.6C340.4 153.7 338.8 147.8 338 144C337.2 140.2 336.2 136.3 336 133C335.8 129.7 335.9 126.5 336.6 124C337.2 121.5 338.5 119.3 339.9 117.8C341.3 116.3 343 115.5 344.9 114.8C346.8 114.1 349.4 113.9 351.2 113.5C353 113.1 353.8 112.9 355.6 112.6C357.4 112.3 360.1 112 362 111.9C363.9 111.8 364 112.1 367 111.8C370 111.5 374.5 110.9 380 110.2C385.5 109.5 394.2 108.5 400 107.5C405.8 106.5 410.8 105.4 415 104C419.2 102.6 421.3 100.3 425 99C428.7 97.7 432.5 96.6 437 96C441.5 95.4 447.2 95.6 452 95.6C456.8 95.5 461.3 95.5 466 95.7C470.7 95.9 475.6 96.7 480 97C484.4 97.3 488.5 97.2 492.3 97.8C496.1 98.4 499.9 100 503 100.5C506.1 101 508.1 101.7 510.7 101C513.3 100.3 516.4 98.2 518.6 96.5C520.8 94.8 522.1 92.2 524 91C525.9 89.8 527.3 90.2 530 89C532.7 87.8 538.3 84.7 540 83.8" stroke="#20B2AA"/>
<path d="M342.1 155.6C341.6 153.7 340 147.8 339.2 144C338.4 140.2 337.4 136.3 337.2 133C337 129.7 337.2 126.5 337.8 124C338.4 121.5 339.7 119.3 341.1 117.8C342.5 116.3 344.2 115.5 346.1 114.8C348 114.1 350.7 113.9 352.4 113.5C354.1 113.1 354.8 112.9 356.4 112.6C358 112.3 360.2 112 362 111.9C363.8 111.8 364 112.2 367 111.8C370 111.4 374.5 110.7 380 109.4C385.5 108.1 390 106.9 400 104C410 101.1 426.8 96.1 440 92C453.2 87.9 469 82.1 479 79.3C489 76.5 493.8 76.1 500 75C506.2 73.9 511 73.5 516 72.7C521 71.9 526 70.3 530 70C534 69.7 538.3 70.8 540 71" stroke="#0A640A"/>
<path d="M343.3 155.6C342.8 153.7 341.2 147.8 340.4 144C339.6 140.2 338.6 136.3 338.4 133C338.2 129.7 338.4 126.5 339 124C339.6 121.5 340.9 119.3 342.3 117.8C343.7 116.3 345.4 115.5 347.3 114.8C349.2 114.1 352 113.9 353.6 113.5C355.2 113.1 355.7 112.9 357.1 112.6C358.5 112.3 360.3 112 362 111.9C363.7 111.8 364.7 112.2 367 111.8C369.3 111.4 372.7 110.4 376 109.4C379.3 108.4 383 107.7 387 106C391 104.3 393.3 102.5 400 99C406.7 95.5 415.3 91 427 85C438.7 79 451.2 72.8 470 63.2C488.8 53.6 528.3 33.2 540 27.2" stroke="#B57BEE"/>
</g>
<rect x="321.6" y="4.3" width="218.2" height="157.8" fill="none" stroke="#7c7c7c" stroke-width="1"/>
<path d="M334 162.1v-2.7 M334 4.3v2.7M371.1 162.1v-2.7 M371.1 4.3v2.7M408.2 162.1v-2.7 M408.2 4.3v2.7M445.3 162.1v-2.7 M445.3 4.3v2.7M482.4 162.1v-2.7 M482.4 4.3v2.7M519.5 162.1v-2.7 M519.5 4.3v2.7M321.6 17.5h2.7 M539.8 17.5h-2.7M321.6 34.2h2.7 M539.8 34.2h-2.7M321.6 50.9h2.7 M539.8 50.9h-2.7M321.6 67.6h2.7 M539.8 67.6h-2.7M321.6 84.3h2.7 M539.8 84.3h-2.7M321.6 101h2.7 M539.8 101h-2.7M321.6 117.7h2.7 M539.8 117.7h-2.7M321.6 134.4h2.7 M539.8 134.4h-2.7M321.6 151.1h2.7 M539.8 151.1h-2.7" stroke="#4a4a4a" stroke-width="0.7" fill="none"/>
<g fill="#262626" font-family='"Liberation Sans","Noto Sans CJK SC",sans-serif'>
<text x="334" y="173.2" font-size="8" text-anchor="middle">0.<tspan dx="1.4">26</tspan></text>
<text x="371.1" y="173.2" font-size="8" text-anchor="middle">0.<tspan dx="1.4">28</tspan></text>
<text x="408.2" y="173.2" font-size="8" text-anchor="middle">0.<tspan dx="1.4">3</tspan></text>
<text x="445.3" y="173.2" font-size="8" text-anchor="middle">0.<tspan dx="1.4">32</tspan></text>
<text x="482.4" y="173.2" font-size="8" text-anchor="middle">0.<tspan dx="1.4">34</tspan></text>
<text x="519.5" y="173.2" font-size="8" text-anchor="middle">0.<tspan dx="1.4">36</tspan></text>
<text x="318.1" y="20.4" font-size="8" text-anchor="end">0.<tspan dx="1.4">12</tspan></text>
<text x="318.1" y="37.1" font-size="8" text-anchor="end">0.<tspan dx="1.4">1</tspan></text>
<text x="318.1" y="53.8" font-size="8" text-anchor="end">0.<tspan dx="1.4">08</tspan></text>
<text x="318.1" y="70.5" font-size="8" text-anchor="end">0.<tspan dx="1.4">06</tspan></text>
<text x="318.1" y="87.2" font-size="8" text-anchor="end">0.<tspan dx="1.4">04</tspan></text>
<text x="318.1" y="103.9" font-size="8" text-anchor="end">0.<tspan dx="1.4">02</tspan></text>
<text x="318.1" y="120.6" font-size="8" text-anchor="end">0</text>
<text x="318.1" y="137.3" font-size="8" text-anchor="end">-0.<tspan dx="1.4">02</tspan></text>
<text x="318.1" y="154" font-size="8" text-anchor="end">-0.<tspan dx="1.4">04</tspan></text>
<text x="432.7" y="184.2" font-size="8" text-anchor="middle">Z<tspan dx="1">'</tspan><tspan dx="1.2">（</tspan><tspan dx="1">Ω</tspan><tspan dx="1">）</tspan></text>
<text transform="translate(294.9 82.2) rotate(-90)" font-size="8" text-anchor="middle">-Z<tspan dx="1">'</tspan><tspan dx="2.4">'</tspan><tspan dx="1.2">（</tspan><tspan dx="1">Ω</tspan><tspan dx="1">）</tspan></text>
</g>
<text x="426.3" y="197.4" font-family='"Liberation Serif",serif' font-size="11.3" text-anchor="middle" fill="#000">(<tspan font-weight="bold">b</tspan>)</text>
<rect x="322.2" y="4.9" width="129" height="56.3" fill="#fff" stroke="#5a5a5a" stroke-width="0.7"/>
<g font-family='"Liberation Sans","Noto Sans CJK SC",sans-serif' font-size="6.8" fill="#111">
<path d="M323.8 9.6h14.5" stroke="#FF00FF" stroke-width="1.35"/>
<text x="340.3" y="11.9" textLength="24.5" lengthAdjust="spacingAndGlyphs">SOC=100%</text>
<path d="M323.8 17.5h14.5" stroke="#0000FF" stroke-width="1.35"/>
<text x="340.3" y="19.8" textLength="21.4" lengthAdjust="spacingAndGlyphs">SOC=95%</text>
<path d="M323.8 25.4h14.5" stroke="#000000" stroke-width="1.35"/>
<text x="340.3" y="27.7" textLength="21.4" lengthAdjust="spacingAndGlyphs">SOC=90%</text>
<path d="M323.8 33.2h14.5" stroke="#FF0000" stroke-width="1.35"/>
<text x="340.3" y="35.6" textLength="21.4" lengthAdjust="spacingAndGlyphs">SOC=85%</text>
<path d="M323.8 41.2h14.5" stroke="#FF99DD" stroke-width="1.35"/>
<text x="340.3" y="43.5" textLength="21.4" lengthAdjust="spacingAndGlyphs">SOC=80%</text>
<path d="M323.8 49h14.5" stroke="#6B8E6B" stroke-width="1.35"/>
<text x="340.3" y="51.4" textLength="21.4" lengthAdjust="spacingAndGlyphs">SOC=75%</text>
<path d="M323.8 57h14.5" stroke="#FFE4C4" stroke-width="1.35"/>
<text x="340.3" y="59.3" textLength="21.4" lengthAdjust="spacingAndGlyphs">SOC=70%</text>
<path d="M368.3 9.6h14" stroke="#00FF00" stroke-width="1.35"/>
<text x="384.3" y="11.9" textLength="21.4" lengthAdjust="spacingAndGlyphs">SOC=65%</text>
<path d="M368.3 17.5h14" stroke="#00E0D0" stroke-width="1.35"/>
<text x="384.3" y="19.8" textLength="21.4" lengthAdjust="spacingAndGlyphs">SOC=60%</text>
<path d="M368.3 25.4h14" stroke="#B8651B" stroke-width="1.35"/>
<text x="384.3" y="27.7" textLength="21.4" lengthAdjust="spacingAndGlyphs">SOC=55%</text>
<path d="M368.3 33.2h14" stroke="#FF7F50" stroke-width="1.35"/>
<text x="384.3" y="35.6" textLength="18.3" lengthAdjust="spacingAndGlyphs">SOC=50</text>
<path d="M368.3 41.2h14" stroke="#D02CF0" stroke-width="1.35"/>
<text x="384.3" y="43.5" textLength="21.4" lengthAdjust="spacingAndGlyphs">SOC=45%</text>
<path d="M368.3 49h14" stroke="#FFC0CB" stroke-width="1.35"/>
<text x="384.3" y="51.4" textLength="21.4" lengthAdjust="spacingAndGlyphs">SOC=40%</text>
<path d="M368.3 57h14" stroke="#FA8072" stroke-width="1.35"/>
<text x="384.3" y="59.3" textLength="21.4" lengthAdjust="spacingAndGlyphs">SOC=35%</text>
<path d="M410.3 9.6h14" stroke="#F2C318" stroke-width="1.35"/>
<text x="426.3" y="11.9" textLength="21.4" lengthAdjust="spacingAndGlyphs">SOC=30%</text>
<path d="M410.3 17.5h14" stroke="#B22222" stroke-width="1.35"/>
<text x="426.3" y="19.8" textLength="21.4" lengthAdjust="spacingAndGlyphs">SOC=25%</text>
<path d="M410.3 25.4h14" stroke="#D08C8C" stroke-width="1.35"/>
<text x="426.3" y="27.7" textLength="21.4" lengthAdjust="spacingAndGlyphs">SOC=20%</text>
<path d="M410.3 33.2h14" stroke="#2255CC" stroke-width="1.35"/>
<text x="426.3" y="35.6" textLength="21.4" lengthAdjust="spacingAndGlyphs">SOC=15%</text>
<path d="M410.3 41.2h14" stroke="#20B2AA" stroke-width="1.35"/>
<text x="426.3" y="43.5" textLength="21.4" lengthAdjust="spacingAndGlyphs">SOC=10%</text>
<path d="M410.3 49h14" stroke="#0A640A" stroke-width="1.35"/>
<text x="426.3" y="51.4" textLength="18.3" lengthAdjust="spacingAndGlyphs">SOC=5%</text>
<path d="M410.3 57h14" stroke="#B57BEE" stroke-width="1.35"/>
<text x="426.3" y="59.3" textLength="18.3" lengthAdjust="spacingAndGlyphs">SOC=0%</text>
</g>
<clipPath id="cc"><rect x="40.2" y="231.8" width="218.1" height="158.6"/></clipPath>
<g clip-path="url(#cc)" fill="none" stroke-width="1.3" stroke-linejoin="round" stroke-linecap="butt">
<path d="M46 379C45.8 377.5 45.3 373.2 45 370C44.7 366.8 44.4 363 44.4 360C44.4 357 44.5 354.6 45 352C45.5 349.4 46.3 346.2 47.6 344.3C48.8 342.4 49.7 342 52.6 340.8C55.4 339.6 59.9 339.4 64.6 337.3C69.2 335.2 76.2 329.8 80.4 328C84.6 326.2 86.4 325.8 90 326.3C93.6 326.8 98.4 329.4 102 331.2C105.6 333 108.5 336.9 111.5 337C114.5 337.1 116.9 333.7 120 331.5C123.1 329.3 124.3 329.1 130 324C135.7 318.9 150 304.8 154 301" stroke="#FF00FF"/>
<path d="M46.2 379C46.1 377.5 45.5 373.2 45.2 370C45 366.8 44.6 363 44.6 360C44.6 357 44.6 354.5 45.2 352C45.8 349.5 46.8 346.6 48.1 344.8C49.4 343 50.3 342.5 53.1 341.3C55.8 340.1 61.2 338.8 64.9 337.8C68.5 336.8 71.6 335.4 75 335.2C78.4 335 81.8 335.9 85 336.5C88.2 337.1 91.7 339.2 94 339C96.3 338.8 97.2 336.8 99 335C100.8 333.2 102.2 331.1 105 328C107.8 324.9 110.2 322.3 116 316.5C121.8 310.7 136 296.9 140 293" stroke="#0000FF"/>
<path d="M46.4 379C46.3 377.5 45.7 373.2 45.4 370C45.2 366.8 44.8 363 44.8 360C44.8 357 44.8 354.5 45.4 352C46.1 349.5 47.3 347 48.6 345.3C50 343.6 50.8 342.9 53.5 341.8C56.3 340.6 61.9 339.3 65.2 338.3C68.4 337.2 69.2 335 73 335.5C76.8 336 82.9 342.9 88 341C93.1 339.1 98 329.5 103.6 324C109.2 318.5 115.7 313.2 121.8 308C127.9 302.7 137 295 140 292.4" stroke="#000000"/>
<path d="M46.7 379C46.5 377.5 45.9 373.2 45.7 370C45.4 366.8 45.1 363 45.1 360C45.1 357 45.1 354.6 45.7 352C46.2 349.4 47 346.2 48.2 344.3C49.5 342.4 50.4 342 53.1 340.8C55.8 339.6 61.4 338.1 64.6 337.3C67.7 336.5 68.6 335 72 335.8C75.4 336.6 80.1 344.3 85 342C89.9 339.7 95.5 328.4 101.5 321.8C107.5 315.3 114.3 309.1 120.8 302.8C127.2 296.6 136.8 287.5 140 284.4" stroke="#FF0000"/>
<path d="M46.9 379C46.7 377.5 46.1 373.2 45.9 370C45.6 366.8 45.3 363 45.3 360C45.3 357 45.3 354.5 45.9 352C46.5 349.5 47.5 346.6 48.8 344.8C50 343 50.9 342.5 53.6 341.3C56.3 340.1 61.8 338.7 64.9 337.8C67.9 336.9 68.8 335.3 72 336C75.2 336.7 79.3 344.4 84 342C88.7 339.6 94.2 328 99.9 321.4C105.6 314.7 112.3 308.3 118.5 301.9C124.6 295.5 133.9 286.1 137 283" stroke="#FF99DD"/>
<path d="M47.1 379C46.9 377.5 46.4 373.2 46.1 370C45.8 366.8 45.5 363 45.5 360C45.5 357 45.5 354.5 46.1 352C46.7 349.5 47.9 347 49.3 345.3C50.6 343.6 51.4 342.9 54 341.8C56.7 340.6 62.3 339.2 65.2 338.3C68.1 337.3 68.5 335.3 71.5 336C74.5 336.7 78 344.9 83 342.5C88 340.1 94.8 328.4 101.4 321.7C108.1 314.9 115.7 308.5 122.9 302C130.1 295.6 140.8 286.2 144.4 283" stroke="#6B8E6B"/>
<path d="M47.3 379C47.2 377.5 46.6 373.2 46.3 370C46.1 366.8 45.7 363 45.7 360C45.7 357 45.8 354.6 46.3 352C46.9 349.4 47.7 346.2 48.9 344.3C50.1 342.4 51 342 53.6 340.8C56.2 339.6 61.7 338.1 64.6 337.3C67.5 336.5 68.1 335.2 71 336C73.9 336.8 77.8 344 82 342C86.2 340 91.2 329.7 96.4 323.8C101.6 317.9 107.6 312.3 113.2 306.6C118.8 301 127.2 292.8 130 290" stroke="#FFE4C4"/>
<path d="M47.5 379C47.4 377.5 46.8 373.2 46.5 370C46.3 366.8 45.9 363 45.9 360C45.9 357 46 354.5 46.5 352C47.1 349.5 48.2 346.6 49.4 344.8C50.7 343 51.5 342.5 54.1 341.3C56.7 340.1 62.1 338.6 64.9 337.8C67.6 336.9 68.1 335.4 70.5 336.2C72.9 337 75.1 344.5 79 342.6C82.9 340.7 88.4 330.6 93.7 324.9C99 319.2 105.1 313.7 110.8 308.2C116.6 302.7 125.1 294.7 128 292" stroke="#00FF00"/>
<path d="M47.8 379C47.6 377.5 47 373.2 46.8 370C46.5 366.8 46.2 363 46.2 360C46.2 357 46.1 354.5 46.8 352C47.4 349.5 48.6 347 49.9 345.3C51.2 343.6 52 342.9 54.6 341.8C57.1 340.6 62.4 339.2 65.2 338.3C67.9 337.3 68.5 335.4 71 336C73.5 336.6 75.7 344.1 80 342C84.3 339.9 90.7 329.2 96.8 323.1C102.9 317 109.9 311.1 116.4 305.3C122.9 299.4 132.7 290.9 136 288" stroke="#00E0D0"/>
<path d="M48 379C47.8 377.5 47.2 373.2 47 370C46.7 366.8 46.4 363 46.4 360C46.4 357 46.4 354.6 47 352C47.5 349.4 48.4 346.2 49.6 344.3C50.8 342.4 51.7 342 54.2 340.8C56.7 339.6 61.6 338.1 64.6 337.3C67.6 336.5 69.1 335 72 335.8C74.9 336.6 77.8 344.2 82 342C86.2 339.8 91.8 328.7 97.3 322.4C102.8 316.1 109.2 310 115.2 303.9C121.1 297.9 130 289 133 286" stroke="#B8651B"/>
<path d="M48.2 379C48 377.5 47.5 373.2 47.2 370C46.9 366.8 46.6 363 46.6 360C46.6 357 46.6 354.5 47.2 352C47.8 349.5 48.8 346.6 50.1 344.8C51.3 343 52.2 342.5 54.6 341.3C57.1 340.1 61.6 338.8 64.9 337.8C68.1 336.8 70.6 334.9 74 335.4C77.4 335.9 81.2 343.3 85.5 340.7C89.8 338.1 94.7 326.4 99.9 319.6C105.1 312.8 111.2 306.2 116.8 299.7C122.4 293.2 130.8 283.6 133.6 280.4" stroke="#FF7F50"/>
<path d="M48.4 379C48.3 377.5 47.7 373.2 47.4 370C47.2 366.8 46.8 363 46.8 360C46.8 357 46.8 354.5 47.4 352C48 349.5 49.3 347 50.6 345.3C51.9 343.6 52.7 342.9 55.1 341.8C57.5 340.6 61.9 339.4 65.2 338.3C68.5 337.1 71.4 334.4 75 335C78.6 335.6 82.8 343.9 87 342C91.2 340.1 95.2 329.7 99.9 323.8C104.6 317.9 109.9 312.3 115 306.6C120 301 127.5 292.8 130 290" stroke="#D02CF0"/>
<path d="M48.6 379C48.5 377.5 47.9 373.2 47.6 370C47.4 366.8 47 363 47 360C47 357 47.1 354.6 47.6 352C48.2 349.4 49 346.2 50.2 344.3C51.4 342.4 52.3 342 54.7 340.8C57.1 339.6 61 338.3 64.6 337.3C68.1 336.3 71.9 334 76 334.8C80.1 335.6 84.9 343.5 89 342C93.1 340.5 96.5 331.1 100.7 325.9C104.9 320.7 109.8 315.7 114.3 310.7C118.9 305.7 125.7 298.5 128 296" stroke="#FFC0CB"/>
<path d="M48.9 379C48.7 377.5 48.1 373.2 47.9 370C47.6 366.8 47.3 363 47.3 360C47.3 357 47.3 354.5 47.9 352C48.4 349.5 49.5 346.6 50.7 344.8C52 343 52.8 342.5 55.2 341.3C57.5 340.1 61.2 338.9 64.9 337.8C68.5 336.7 72.8 333.8 77 334.6C81.2 335.4 85.7 344.8 90 342.5C94.3 340.2 98.2 327.9 102.9 321C107.6 314 112.9 307.3 118 300.7C123 294 130.5 284.3 133 281" stroke="#FA8072"/>
<path d="M49.1 379C48.9 377.5 48.3 373.2 48.1 370C47.8 366.8 47.5 363 47.5 360C47.5 357 47.5 354.5 48.1 352C48.7 349.5 50 347 51.2 345.3C52.5 343.6 53.3 342.9 55.6 341.8C58 340.6 61.1 339.5 65.2 338.3C69.2 337.1 76.4 334.5 80 334.5C83.6 334.5 84.9 336.6 87 338C89.1 339.4 90.8 342.9 92.5 342.6C94.2 342.3 94.9 340.1 97 336C99.1 331.9 101.8 324.3 105 318C108.2 311.7 112 304.8 116 298C120 291.2 126.8 280.5 129 277" stroke="#F2C318"/>
<path d="M49.3 379C49.1 377.5 48.6 373.2 48.3 370C48 366.8 47.7 363 47.7 360C47.7 357 47.8 354.6 48.3 352C48.8 349.4 49.7 346.2 50.9 344.3C52 342.4 52.9 342 55.2 340.8C57.5 339.6 61.1 338.4 64.6 337.3C68 336.2 72.8 335.1 76 334.5C79.2 333.9 81.2 333.3 84 333.7C86.8 334.1 90.2 335.7 93 337C95.8 338.3 98.5 341.4 100.7 341.4C102.9 341.4 104.3 339.2 106 337C107.7 334.8 108.7 332.1 111 328C113.3 323.9 115.2 319.7 120 312.7C124.8 305.7 136.7 290.4 140 286" stroke="#B22222"/>
<path d="M49.5 379C49.4 377.5 48.8 373.2 48.5 370C48.3 366.8 47.9 363 47.9 360C47.9 357 47.9 354.5 48.5 352C49.1 349.5 50.2 346.6 51.4 344.8C52.6 343 53.4 342.5 55.7 341.3C57.9 340.1 60.8 339.3 64.9 337.8C68.9 336.2 75.8 333.4 80 332C84.2 330.6 87 330.1 90 329.5C93 328.9 95.2 328.2 98 328.6C100.8 329 104.2 330.5 107 332C109.8 333.5 112.2 337.8 114.7 337.5C117.2 337.2 119.5 333.1 122 330C124.5 326.9 125.3 325.3 130 319C134.7 312.7 143.8 300 150 292C156.2 284 164.5 274.5 167.4 271" stroke="#D08C8C"/>
<path d="M49.7 379C49.6 377.5 49 373.2 48.7 370C48.5 366.8 48.1 363 48.1 360C48.1 357 48.1 354.5 48.7 352C49.4 349.5 50.7 347 51.9 345.3C53.1 343.6 53.9 342.9 56.2 341.8C58.4 340.6 62 339.9 65.2 338.3C68.3 336.6 71.6 334.4 75 332C78.4 329.6 82.1 326.4 85.5 324C88.9 321.6 92.7 318.9 95.6 317.4C98.5 315.9 100.4 315.6 103 315C105.6 314.4 108 313.8 111 314C114 314.2 117.8 315.2 121 316C124.2 316.8 127.2 317.6 130 318.8C132.8 320.1 135.7 322.1 138 323.5C140.3 324.9 142.2 327.2 144 327.5C145.8 327.8 147.5 326.6 149 325C150.5 323.4 149.5 323.2 153 318C156.5 312.8 163.8 301.8 170 294C176.2 286.2 183.5 278.2 190 271C196.5 263.8 205.8 254.3 209 251" stroke="#2255CC"/>
<path d="M50 379C49.8 377.5 49.2 373.2 49 370C48.7 366.8 48.4 363 48.4 360C48.4 357 48.4 354.6 49 352C49.5 349.4 50.4 346.2 51.5 344.3C52.7 342.4 53.6 342 55.7 340.8C57.9 339.6 61.4 338.8 64.6 337.3C67.8 335.8 72.2 333.6 75 332C77.8 330.4 78.8 330.3 81.6 328C84.4 325.7 88.1 321.8 92 318C95.9 314.2 100.3 309 105 305C109.7 301 115.8 296.9 120 294C124.2 291.1 127 289.1 130 287.8C133 286.5 134.7 286.2 138 286C141.3 285.8 146.3 286.4 150 286.6C153.7 286.8 155 286.6 160 287C165 287.4 175 288.5 180 289C185 289.5 186.7 288.8 190 290C193.3 291.2 197.3 294.6 200 296C202.7 297.4 203.8 298.3 206 298.5C208.2 298.7 210.3 298.6 213 297C215.7 295.4 219.2 291.8 222 289C224.8 286.2 226.2 284.8 230 280C233.8 275.2 240.2 266.3 245 260C249.8 253.7 256.7 245 259 242" stroke="#20B2AA"/>
<path d="M50.2 379C50 377.5 49.4 373.2 49.2 370C48.9 366.8 48.6 363 48.6 360C48.6 357 48.6 354.5 49.2 352C49.8 349.5 50.9 346.6 52.1 344.8C53.2 343 54.1 342.5 56.2 341.3C58.4 340.1 61.7 339.3 64.9 337.8C68 336.2 72 334 75 332C78 330 80.8 327.8 83 326C85.2 324.2 86.1 323.2 88 321C89.9 318.8 91.7 316.2 94.4 312.7C97.2 309.2 100.9 304.4 104.5 300C108.1 295.6 112.6 290.2 116 286C119.4 281.8 122 278.3 125 275C128 271.7 129.8 269.3 134 266C138.2 262.7 145 258 150 255C155 252 159.3 250.8 164 248C168.7 245.2 173.2 240.8 178 238C182.8 235.2 190.5 232.3 193 231.2" stroke="#0A640A"/>
<path d="M50.4 379C50.2 377.5 49.7 373.2 49.4 370C49.1 366.8 48.8 363 48.8 360C48.8 357 48.8 354.5 49.4 352C50 349.5 51.4 347 52.6 345.3C53.8 343.6 54.6 342.9 56.7 341.8C58.8 340.6 61.6 340.1 65.2 338.3C68.7 336.5 73.5 333.4 78 331C82.5 328.6 87.7 326.2 92 324C96.3 321.8 100.7 321.3 104 318C107.3 314.7 109.3 309 112 304C114.7 299 117 293.5 120 288C123 282.5 126.7 276.7 130 271C133.3 265.3 137.2 259.2 140 254C142.8 248.8 145.1 243.9 147 240C148.9 236.1 150.8 232.1 151.5 230.5" stroke="#B57BEE"/>
</g>
<rect x="40.2" y="231.8" width="218.1" height="158.6" fill="none" stroke="#7c7c7c" stroke-width="1"/>
<path d="M69.9 390.4v-2.7 M69.9 231.8v2.7M99 390.4v-2.7 M99 231.8v2.7M128.1 390.4v-2.7 M128.1 231.8v2.7M157.2 390.4v-2.7 M157.2 231.8v2.7M186.3 390.4v-2.7 M186.3 231.8v2.7M215.4 390.4v-2.7 M215.4 231.8v2.7M244.5 390.4v-2.7 M244.5 231.8v2.7M40.2 244.2h2.7 M258.3 244.2h-2.7M40.2 278.7h2.7 M258.3 278.7h-2.7M40.2 313.3h2.7 M258.3 313.3h-2.7M40.2 347.8h2.7 M258.3 347.8h-2.7M40.2 382.4h2.7 M258.3 382.4h-2.7" stroke="#4a4a4a" stroke-width="0.7" fill="none"/>
<g fill="#262626" font-family='"Liberation Sans","Noto Sans CJK SC",sans-serif'>
<text x="69.9" y="401.2" font-size="8" text-anchor="middle">0.<tspan dx="1.4">3</tspan></text>
<text x="99" y="401.2" font-size="8" text-anchor="middle">0.<tspan dx="1.4">35</tspan></text>
<text x="128.1" y="401.2" font-size="8" text-anchor="middle">0.<tspan dx="1.4">4</tspan></text>
<text x="157.2" y="401.2" font-size="8" text-anchor="middle">0.<tspan dx="1.4">45</tspan></text>
<text x="186.3" y="401.2" font-size="8" text-anchor="middle">0.<tspan dx="1.4">5</tspan></text>
<text x="215.4" y="401.2" font-size="8" text-anchor="middle">0.<tspan dx="1.4">55</tspan></text>
<text x="244.5" y="401.2" font-size="8" text-anchor="middle">0.<tspan dx="1.4">6</tspan></text>
<text x="36.7" y="247.1" font-size="8" text-anchor="end">0.<tspan dx="1.4">15</tspan></text>
<text x="36.7" y="281.6" font-size="8" text-anchor="end">0.<tspan dx="1.4">1</tspan></text>
<text x="36.7" y="316.2" font-size="8" text-anchor="end">0.<tspan dx="1.4">05</tspan></text>
<text x="36.7" y="350.7" font-size="8" text-anchor="end">0</text>
<text x="36.7" y="385.3" font-size="8" text-anchor="end">-0.<tspan dx="1.4">05</tspan></text>
<text x="151.4" y="413.1" font-size="8" text-anchor="middle">Z<tspan dx="1">'</tspan><tspan dx="1.2">（</tspan><tspan dx="1">Ω</tspan><tspan dx="1">）</tspan></text>
<text transform="translate(13.6 310.1) rotate(-90)" font-size="8" text-anchor="middle">-Z<tspan dx="1">'</tspan><tspan dx="2.4">'</tspan><tspan dx="1.2">（</tspan><tspan dx="1">Ω</tspan><tspan dx="1">）</tspan></text>
</g>
<text x="144.6" y="427.2" font-family='"Liberation Serif",serif' font-size="11.3" text-anchor="middle" fill="#000">(<tspan font-weight="bold">c</tspan>)</text>
<rect x="139.3" y="339.5" width="118" height="49.4" fill="#fff" stroke="#5a5a5a" stroke-width="0.7"/>
<g font-family='"Liberation Sans","Noto Sans CJK SC",sans-serif' font-size="5.9" fill="#111">
<path d="M141.1 343.8h14.5" stroke="#FF00FF" stroke-width="1.4"/>
<text x="157.1" y="345.9" textLength="21.3" lengthAdjust="spacingAndGlyphs">SOC=100%</text>
<path d="M141.1 350.7h14.5" stroke="#0000FF" stroke-width="1.4"/>
<text x="157.1" y="352.8" textLength="18.6" lengthAdjust="spacingAndGlyphs">SOC=95%</text>
<path d="M141.1 357.7h14.5" stroke="#000000" stroke-width="1.4"/>
<text x="157.1" y="359.7" textLength="18.6" lengthAdjust="spacingAndGlyphs">SOC=90%</text>
<path d="M141.1 364.6h14.5" stroke="#FF0000" stroke-width="1.4"/>
<text x="157.1" y="366.6" textLength="18.6" lengthAdjust="spacingAndGlyphs">SOC=85%</text>
<path d="M141.1 371.5h14.5" stroke="#FF99DD" stroke-width="1.4"/>
<text x="157.1" y="373.6" textLength="18.6" lengthAdjust="spacingAndGlyphs">SOC=80%</text>
<path d="M141.1 378.4h14.5" stroke="#6B8E6B" stroke-width="1.4"/>
<text x="157.1" y="380.5" textLength="18.6" lengthAdjust="spacingAndGlyphs">SOC=75%</text>
<path d="M141.1 385.4h14.5" stroke="#FFE4C4" stroke-width="1.4"/>
<text x="157.1" y="387.4" textLength="18.6" lengthAdjust="spacingAndGlyphs">SOC=70%</text>
<path d="M182.5 343.8h13.9" stroke="#00FF00" stroke-width="1.4"/>
<text x="197.9" y="345.9" textLength="18.6" lengthAdjust="spacingAndGlyphs">SOC=65%</text>
<path d="M182.5 350.7h13.9" stroke="#00E0D0" stroke-width="1.4"/>
<text x="197.9" y="352.8" textLength="18.6" lengthAdjust="spacingAndGlyphs">SOC=60%</text>
<path d="M182.5 357.7h13.9" stroke="#B8651B" stroke-width="1.4"/>
<text x="197.9" y="359.7" textLength="18.6" lengthAdjust="spacingAndGlyphs">SOC=55%</text>
<path d="M182.5 364.6h13.9" stroke="#FF7F50" stroke-width="1.4"/>
<text x="197.9" y="366.6" textLength="15.9" lengthAdjust="spacingAndGlyphs">SOC=50</text>
<path d="M182.5 371.5h13.9" stroke="#D02CF0" stroke-width="1.4"/>
<text x="197.9" y="373.6" textLength="18.6" lengthAdjust="spacingAndGlyphs">SOC=45%</text>
<path d="M182.5 378.4h13.9" stroke="#FFC0CB" stroke-width="1.4"/>
<text x="197.9" y="380.5" textLength="18.6" lengthAdjust="spacingAndGlyphs">SOC=40%</text>
<path d="M182.5 385.4h13.9" stroke="#FA8072" stroke-width="1.4"/>
<text x="197.9" y="387.4" textLength="18.6" lengthAdjust="spacingAndGlyphs">SOC=35%</text>
<path d="M220.5 343.8h13.8" stroke="#F2C318" stroke-width="1.4"/>
<text x="235.8" y="345.9" textLength="18.6" lengthAdjust="spacingAndGlyphs">SOC=30%</text>
<path d="M220.5 350.7h13.8" stroke="#B22222" stroke-width="1.4"/>
<text x="235.8" y="352.8" textLength="18.6" lengthAdjust="spacingAndGlyphs">SOC=25%</text>
<path d="M220.5 357.7h13.8" stroke="#D08C8C" stroke-width="1.4"/>
<text x="235.8" y="359.7" textLength="18.6" lengthAdjust="spacingAndGlyphs">SOC=20%</text>
<path d="M220.5 364.6h13.8" stroke="#2255CC" stroke-width="1.4"/>
<text x="235.8" y="366.6" textLength="18.6" lengthAdjust="spacingAndGlyphs">SOC=15%</text>
<path d="M220.5 371.5h13.8" stroke="#20B2AA" stroke-width="1.4"/>
<text x="235.8" y="373.6" textLength="18.6" lengthAdjust="spacingAndGlyphs">SOC=10%</text>
<path d="M220.5 378.4h13.8" stroke="#0A640A" stroke-width="1.4"/>
<text x="235.8" y="380.5" textLength="15.9" lengthAdjust="spacingAndGlyphs">SOC=5%</text>
<path d="M220.5 385.4h13.8" stroke="#B57BEE" stroke-width="1.4"/>
<text x="235.8" y="387.4" textLength="15.9" lengthAdjust="spacingAndGlyphs">SOC=0%</text>
</g>
<clipPath id="cd"><rect x="321.5" y="232.4" width="218.3" height="158.4"/></clipPath>
<g clip-path="url(#cd)" fill="none" stroke-width="1.3" stroke-linejoin="round" stroke-linecap="butt">
<path d="M325.5 382.9C325.4 381.6 324.9 377.9 324.8 375C324.7 372.1 324.6 368.5 324.8 365.5C325 362.5 325.4 359.4 326 357C326.6 354.6 327.4 352.9 328.7 351.3C330 349.7 331.5 348.1 333.6 347.1C335.7 346.1 337.2 346.2 341.4 345.1C345.6 344.1 353.8 342.2 358.9 340.8C363.9 339.4 367 338 371.6 336.6C376.2 335.2 381.2 333.6 386.4 332.7C391.6 331.8 398.5 331.1 402.7 331.3C406.9 331.5 408.5 332.2 411.8 333.6C415.1 335.1 419.8 338.4 422.7 340C425.6 341.6 427.1 343.2 429 343.3C430.9 343.4 432 342.6 434 340.5C436 338.4 438.3 334.4 441 331C443.7 327.6 446.8 323.5 450 320C453.2 316.5 458.3 311.7 460 310" stroke="#FF00FF"/>
<path d="M325.9 382.9C325.7 381.6 325.3 377.9 325.2 375C325 372.1 325 368.5 325.2 365.5C325.4 362.5 325.7 359.4 326.4 357C327 354.6 327.7 352.9 329.1 351.3C330.4 349.7 332 348.5 334.2 347.6C336.3 346.6 337.7 346.6 341.8 345.6C346 344.5 354.2 342.7 359.2 341.3C364.2 339.9 368 337.9 371.9 337.1C375.8 336.3 379.4 335.7 382.7 336.4C386 337.1 388.9 339.8 391.8 341C394.7 342.2 397.6 343.2 400 343.8C402.4 344.4 404.2 345.1 406.4 344.5C408.6 343.9 410.3 342.2 413 340C415.7 337.8 418 334.3 422.7 331C427.4 327.7 436.4 322.3 441 320C445.6 317.7 445.2 319 450 317C454.8 315 462.8 310.8 470 308C477.2 305.2 489.5 301.3 493.4 300" stroke="#0000FF"/>
<path d="M326.2 382.9C326.1 381.6 325.6 377.9 325.5 375C325.4 372.1 325.3 368.5 325.5 365.5C325.7 362.5 326.1 359.4 326.7 357C327.3 354.6 328.1 352.8 329.4 351.3C330.7 349.8 332.6 348.9 334.7 348.1C336.9 347.2 338.2 347.1 342.3 346.1C346.4 345 354.5 343.2 359.5 341.8C364.4 340.4 368.2 338.2 372.2 337.6C376.1 337 379.9 337.5 383 338.3C386.1 339.1 388.5 341 391 342.6C393.5 344.2 396.1 348.1 398 348C399.9 347.9 398 346.4 402.5 342C407 337.6 416.3 328.4 424.8 321.6C433.3 314.7 443 307.9 453.4 300.7C463.9 293.5 481.7 282.1 487.4 278.4" stroke="#000000"/>
<path d="M326.6 382.9C326.4 381.6 326 377.9 325.9 375C325.7 372.1 325.7 368.5 325.9 365.5C326.1 362.5 326.4 359.4 327.1 357C327.7 354.6 328.5 352.9 329.8 351.3C331 349.7 332.4 348.1 334.4 347.1C336.4 346.1 337.8 346.2 341.9 345.1C346 344.1 353.9 342.2 358.9 340.8C363.8 339.4 367.9 337 371.6 336.6C375.3 336.2 378.1 337.3 381 338.3C383.9 339.3 386.5 341 389 342.6C391.5 344.2 394.1 348.1 396 348C397.9 347.9 395.7 346.8 400.5 342C405.3 337.2 415.6 326.8 424.7 319.3C433.8 311.7 444.1 304.4 455.3 296.6C466.4 288.8 485.5 276.4 491.6 272.4" stroke="#FF0000"/>
<path d="M326.9 382.9C326.8 381.6 326.3 377.9 326.2 375C326.1 372.1 326 368.5 326.2 365.5C326.4 362.5 326.8 359.4 327.4 357C328 354.6 328.8 352.9 330.1 351.3C331.4 349.7 332.9 348.5 335 347.6C337 346.6 338.3 346.6 342.4 345.6C346.4 344.5 354.3 342.7 359.2 341.3C364.1 339.9 368.4 337.6 371.9 337.1C375.3 336.6 377.3 337.4 380 338.3C382.7 339.2 385.5 341 388 342.6C390.5 344.2 393.1 348.1 395 348C396.9 347.9 394.9 347.3 399.5 342C404.1 336.7 413.9 324.6 422.7 316.1C431.5 307.6 441.5 299.6 452.3 290.9C463.1 282.2 481.5 268.5 487.4 264" stroke="#FF99DD"/>
<path d="M327.2 382.9C327.1 381.6 326.7 377.9 326.6 375C326.4 372.1 326.4 368.5 326.6 365.5C326.8 362.5 327.1 359.4 327.8 357C328.4 354.6 329.1 352.8 330.4 351.3C331.8 349.8 333.5 348.9 335.6 348.1C337.6 347.2 338.9 347.1 342.8 346.1C346.8 345 354.6 343.2 359.5 341.8C364.4 340.4 368.7 338.2 372.2 337.6C375.6 337 377.4 337.5 380 338.3C382.6 339.1 385.5 340.9 388 342.6C390.5 344.3 393.1 348.4 395 348.3C396.9 348.2 393.9 347.1 399.5 342.3C405.1 337.5 417.6 327.2 428.3 319.7C439 312.2 450.9 304.9 463.8 297.1C476.8 289.3 499 277 506 273" stroke="#6B8E6B"/>
<path d="M327.6 382.9C327.5 381.6 327 377.9 326.9 375C326.8 372.1 326.7 368.5 326.9 365.5C327.1 362.5 327.5 359.4 328.1 357C328.8 354.6 329.6 352.9 330.8 351.3C332 349.7 333.3 348.1 335.3 347.1C337.2 346.1 338.5 346.2 342.4 345.1C346.4 344.1 354 342.2 358.9 340.8C363.7 339.4 368.2 337 371.6 336.6C374.9 336.2 376.4 337.3 379 338.3C381.6 339.3 384.5 341 387 342.6C389.5 344.2 392.1 348.1 394 348C395.9 347.9 394.7 345.7 398.5 342C402.3 338.3 409.7 331.5 416.8 326C423.9 320.4 432.3 314.6 441.1 308.6C450 302.6 465.2 293.1 470 290" stroke="#FFE4C4"/>
<path d="M327.9 382.9C327.8 381.6 327.4 377.9 327.2 375C327.1 372.1 327.1 368.5 327.2 365.5C327.4 362.5 327.8 359.4 328.4 357C329.1 354.6 329.9 352.9 331.1 351.3C332.4 349.7 333.9 348.5 335.8 347.6C337.8 346.6 339 346.6 342.9 345.6C346.8 344.5 354.3 342.7 359.2 341.3C364 339.9 368.2 337.6 371.9 337.1C375.6 336.6 378.5 337.4 381.4 338.3C384.3 339.2 386.9 341 389.4 342.6C391.9 344.2 394.5 348.1 396.4 348C398.3 347.9 397.8 345.5 400.9 342C403.9 338.5 409.1 332.2 414.7 326.9C420.3 321.6 427.1 316 434.2 310.3C441.3 304.5 453.5 295.5 457.4 292.5" stroke="#00FF00"/>
<path d="M328.3 382.9C328.2 381.6 327.7 377.9 327.6 375C327.5 372.1 327.4 368.5 327.6 365.5C327.8 362.5 328.2 359.4 328.8 357C329.4 354.6 330.2 352.8 331.5 351.3C332.8 349.8 334.4 348.9 336.4 348.1C338.4 347.2 339.5 347.1 343.4 346.1C347.2 345 354.7 343.2 359.5 341.8C364.3 340.4 368.4 338.2 372.2 337.6C375.9 337 379 337.5 382 338.3C385 339.1 387.5 341 390 342.6C392.5 344.2 395.1 348.1 397 348C398.9 347.9 398.4 345.7 401.5 342C404.6 338.3 410.1 331.5 415.9 326C421.7 320.4 428.7 314.6 436.1 308.6C443.4 302.6 456 293.1 460 290" stroke="#00E0D0"/>
<path d="M328.6 382.9C328.5 381.6 328.1 377.9 327.9 375C327.8 372.1 327.8 368.5 327.9 365.5C328.1 362.5 328.5 359.4 329.1 357C329.8 354.6 330.7 352.9 331.8 351.3C333 349.7 334.2 348.1 336.1 347.1C338 346.1 339.2 346.2 343 345.1C346.8 344.1 354.1 342.2 358.9 340.8C363.7 339.4 367.4 337.1 371.6 336.6C375.8 336.1 380.6 336.8 384 337.8C387.4 338.8 389.5 340.7 392 342.4C394.5 344.1 397.1 348.1 399 348C400.9 347.9 400.7 346 403.5 342C406.3 338 410.8 330.2 415.8 324.1C420.8 317.9 427.2 311.7 433.7 305.2C440.3 298.6 451.5 288.4 455 285" stroke="#B8651B"/>
<path d="M329 382.9C328.9 381.6 328.4 377.9 328.3 375C328.2 372.1 328.1 368.5 328.3 365.5C328.5 362.5 328.9 359.4 329.5 357C330.1 354.6 331 352.9 332.2 351.3C333.4 349.7 334.8 348.5 336.7 347.6C338.5 346.6 339.7 346.6 343.4 345.6C347.2 344.5 354.4 342.7 359.2 341.3C363.9 339.9 367.4 337.7 371.9 337.1C376.3 336.5 382.3 336.6 386 337.5C389.7 338.4 391.5 340.5 394 342.2C396.5 344 399.1 348 401 348C402.9 348 402.1 345.9 405.5 342C408.9 338.1 414.9 330.7 421.1 324.8C427.3 318.9 434.7 312.8 442.5 306.5C450.4 300.2 463.8 290.3 468 287" stroke="#FF7F50"/>
<path d="M329.4 382.9C329.2 381.6 328.8 377.9 328.7 375C328.5 372.1 328.5 368.5 328.7 365.5C328.9 362.5 329.2 359.4 329.9 357C330.5 354.6 331.3 352.8 332.6 351.3C333.8 349.8 335.4 348.9 337.2 348.1C339.1 347.2 340.2 347.1 343.9 346.1C347.6 345 354.8 343.2 359.5 341.8C364.2 340.4 367.2 338.4 372.2 337.6C377.1 336.8 384.9 336.4 389 337.1C393.1 337.8 394.5 340.3 397 342C399.5 343.7 402.1 347.6 404 347.5C405.9 347.4 405.4 344.8 408.5 341.5C411.6 338.2 416.7 332.8 422.3 327.9C427.9 323.1 434.7 317.8 441.8 312.5C448.9 307.2 461.1 298.7 465 296" stroke="#D02CF0"/>
<path d="M329.7 382.9C329.6 381.6 329.1 377.9 329 375C328.9 372.1 328.8 368.5 329 365.5C329.2 362.5 329.6 359.4 330.2 357C330.8 354.6 331.8 352.9 332.9 351.3C334 349.7 335.2 348.1 336.9 347.1C338.7 346.1 339.8 346.2 343.5 345.1C347.1 344.1 354.2 342.2 358.9 340.8C363.6 339.4 366 337.3 371.6 336.6C377.1 335.9 387.5 335.8 392.3 336.7C397.1 337.6 397.8 340.1 400.3 341.8C402.8 343.5 405.4 347.1 407.3 347C409.2 346.9 408.3 344.6 411.8 341C415.3 337.4 422 330.8 428.5 325.3C435.1 319.9 442.9 314.1 451.1 308.2C459.4 302.4 473.5 293 478 290" stroke="#FFC0CB"/>
<path d="M330.1 382.9C329.9 381.6 329.5 377.9 329.4 375C329.2 372.1 329.2 368.5 329.4 365.5C329.6 362.5 329.9 359.4 330.6 357C331.2 354.6 332.1 352.9 333.2 351.3C334.4 349.7 335.7 348.5 337.5 347.6C339.3 346.6 340.3 346.6 343.9 345.6C347.6 344.5 354.5 342.7 359.2 341.3C363.8 339.9 365.7 337.9 371.9 337.1C378 336.3 390.6 335.5 396 336.3C401.4 337.1 401.5 339.7 404 341.6C406.5 343.5 409.1 347.5 411 347.5C412.9 347.5 412 345 415.5 341.5C419 338 425.4 331.8 431.9 326.6C438.3 321.4 446 315.8 454.1 310.1C462.2 304.4 476.1 295.4 480.5 292.5" stroke="#FA8072"/>
<path d="M330.4 382.9C330.3 381.6 329.8 377.9 329.7 375C329.6 372.1 329.5 368.5 329.7 365.5C329.9 362.5 330.2 359.4 330.9 357C331.5 354.6 332.4 352.8 333.6 351.3C334.8 349.8 336.3 348.9 338.1 348.1C339.9 347.2 340.9 347.1 344.4 346.1C348 345 354.8 343.2 359.5 341.8C364.1 340.4 367.9 338.7 372.2 337.6C376.4 336.5 381.1 335.6 385 335.3C388.9 335 392.2 335.2 395.5 335.5C398.8 335.8 401.5 335.8 404.5 337.3C407.5 338.8 411 342.8 413.6 344.5C416.2 346.2 417.9 347.4 420 347.6C422.1 347.8 424.4 347.7 426.4 345.5C428.4 343.3 430 338.1 431.8 334.5C433.6 330.9 433.4 328.1 437.3 323.6C441.2 319.1 448.3 311.7 455 307.5C461.7 303.3 473.8 300 477.5 298.5" stroke="#F2C318"/>
<path d="M330.8 382.9C330.6 381.6 330.2 377.9 330.1 375C329.9 372.1 329.9 368.5 330.1 365.5C330.2 362.5 330.6 359.4 331.2 357C331.9 354.6 332.9 352.9 333.9 351.3C335 349.7 336.1 348.1 337.8 347.1C339.5 346.1 340.5 346.2 344 345.1C347.5 344.1 354.3 342.2 358.9 340.8C363.5 339.4 367.2 337.7 371.6 336.6C375.9 335.5 381.1 334.9 385 334.2C388.9 333.5 391.8 332.9 395 332.6C398.2 332.3 401.5 332.3 404.5 332.3C407.5 332.3 410 332.3 413 332.5C416 332.7 419.9 332.5 422.7 333.6C425.5 334.7 427.7 337.5 430 339C432.3 340.5 434.3 342.7 436.4 342.7C438.5 342.7 440.4 340.9 442.7 339C445 337.1 445.4 335.5 450 331C454.6 326.5 463.2 317.7 470 312C476.8 306.3 484.8 301.6 491 297C497.2 292.4 504.8 286.5 507.5 284.4" stroke="#B22222"/>
<path d="M331.1 382.9C331 381.6 330.5 377.9 330.4 375C330.3 372.1 330.2 368.5 330.4 365.5C330.6 362.5 331 359.4 331.6 357C332.2 354.6 333.2 352.9 334.3 351.3C335.4 349.7 336.7 348.5 338.4 347.6C340 346.6 341 346.6 344.5 345.6C347.9 344.5 354.6 342.7 359.2 341.3C363.7 339.9 367.6 338.4 371.9 337.1C376.2 335.8 381.1 334.5 385 333.5C388.9 332.5 390.8 332.2 395 331C399.2 329.8 405.2 327.9 410 326.5C414.8 325.1 420 323.3 424 322.5C428 321.7 430.3 321.1 434 321.5C437.7 321.9 442 323.2 446 325C450 326.8 454 329.9 458 332C462 334.1 466.5 336.8 470 337.5C473.5 338.2 476.3 337.2 479 336C481.7 334.8 484 332 486 330C488 328 487.7 329 491 324C494.3 319 500.5 307.2 506 300C511.5 292.8 518.3 285.5 524 280.5C529.7 275.5 537.3 271.6 540 269.8" stroke="#D08C8C"/>
<path d="M331.4 382.9C331.3 381.6 330.9 377.9 330.8 375C330.6 372.1 330.6 368.5 330.8 365.5C330.9 362.5 331.3 359.4 331.9 357C332.6 354.6 333.5 352.8 334.6 351.3C335.8 349.8 337.2 348.9 338.9 348.1C340.6 347.2 341.5 347.1 344.9 346.1C348.4 345 354.9 343.2 359.5 341.8C364 340.4 368.2 339 372.2 337.6C376.1 336.1 379.7 334.8 383 333C386.3 331.2 389.5 329 392 327C394.5 325 395.5 323.5 398 321C400.5 318.5 404 314.5 407 312C410 309.5 411.3 307.8 416 306C420.7 304.2 428.5 302.5 435 301.5C441.5 300.5 449.2 300.4 455 300C460.8 299.6 465.5 299.1 470 299C474.5 298.9 478 298.8 482 299.4C486 300 490 301.1 494 302.5C498 303.9 501 305.4 506 307.5C511 309.6 518.3 313.3 524 315C529.7 316.7 537.3 317.1 540 317.5" stroke="#2255CC"/>
<path d="M331.8 382.9C331.7 381.6 331.2 377.9 331.1 375C331 372.1 330.9 368.5 331.1 365.5C331.3 362.5 331.7 359.4 332.3 357C332.9 354.6 333.9 352.9 335 351.3C336.1 349.7 337 348.1 338.6 347.1C340.2 346.1 341.2 346.2 344.5 345.1C347.9 344.1 354.4 342.2 358.9 340.8C363.4 339.4 367.6 337.9 371.6 336.6C375.6 335.3 379 335.2 383 333C387 330.8 391 327.1 395.5 323.6C400 320.1 405.5 315.1 410 311.8C414.5 308.5 417.7 307.6 422.7 303.6C427.7 299.6 433.6 292.6 440 288C446.4 283.4 453 279.2 461 276C469 272.8 479 271.1 488 268.5C497 265.9 506.3 262.9 515 260.4C523.7 257.9 535.8 254.6 540 253.4" stroke="#20B2AA"/>
<path d="M332.1 382.9C332 381.6 331.6 377.9 331.4 375C331.3 372.1 331.2 368.5 331.4 365.5C331.6 362.5 332 359.4 332.6 357C333.3 354.6 334.3 352.9 335.3 351.3C336.4 349.7 337.6 348.5 339.2 347.6C340.8 346.6 341.7 346.6 345 345.6C348.3 344.5 354.7 342.7 359.2 341.3C363.7 339.9 367.9 338.4 371.9 337.1C375.8 335.7 379.1 335.3 383 333.2C386.9 331.1 391 327.3 395.5 324.2C400 321.1 404.1 319.8 410 314.5C415.9 309.2 425.2 298.4 431 292.5C436.8 286.6 440.5 283.2 445 279C449.5 274.8 452.3 272.5 458 267C463.7 261.5 471.7 251.9 479 246C486.3 240.1 498.2 234.2 502 231.8" stroke="#0A640A"/>
<path d="M332.5 382.9C332.4 381.6 331.9 377.9 331.8 375C331.7 372.1 331.6 368.5 331.8 365.5C332 362.5 332.4 359.4 333 357C333.6 354.6 334.6 352.8 335.7 351.3C336.8 349.8 338.1 348.9 339.8 348.1C341.4 347.2 342.2 347.1 345.5 346.1C348.8 345 355 343.2 359.5 341.8C363.9 340.4 367.9 338.9 372.2 337.6C376.4 336.3 381.2 335 385 334C388.8 333 391.8 332.6 395 331.5C398.2 330.4 401.2 329.1 404.5 327.3C407.8 325.5 412 322.6 415 320.5C418 318.4 419.6 317.3 422.7 314.5C425.8 311.7 428.7 309 433.6 303.6C438.5 298.2 445.9 290.4 452 282C458.1 273.6 463.9 261.9 470 253.5C476.1 245.1 485.4 235.2 488.5 231.5" stroke="#B57BEE"/>
</g>
<rect x="321.5" y="232.4" width="218.3" height="158.4" fill="none" stroke="#7c7c7c" stroke-width="1"/>
<path d="M351.9 390.8v-2.7 M351.9 232.4v2.7M389.1 390.8v-2.7 M389.1 232.4v2.7M426.3 390.8v-2.7 M426.3 232.4v2.7M463.5 390.8v-2.7 M463.5 232.4v2.7M500.7 390.8v-2.7 M500.7 232.4v2.7M537.9 390.8v-2.7 M537.9 232.4v2.7M321.5 259h2.7 M539.8 259h-2.7M321.5 291h2.7 M539.8 291h-2.7M321.5 323h2.7 M539.8 323h-2.7M321.5 355h2.7 M539.8 355h-2.7M321.5 387h2.7 M539.8 387h-2.7" stroke="#4a4a4a" stroke-width="0.7" fill="none"/>
<g fill="#262626" font-family='"Liberation Sans","Noto Sans CJK SC",sans-serif'>
<text x="351.9" y="401.2" font-size="8" text-anchor="middle">0.<tspan dx="1.4">3</tspan></text>
<text x="389.1" y="401.2" font-size="8" text-anchor="middle">0.<tspan dx="1.4">35</tspan></text>
<text x="426.3" y="401.2" font-size="8" text-anchor="middle">0.<tspan dx="1.4">4</tspan></text>
<text x="463.5" y="401.2" font-size="8" text-anchor="middle">0.<tspan dx="1.4">45</tspan></text>
<text x="500.7" y="401.2" font-size="8" text-anchor="middle">0.<tspan dx="1.4">5</tspan></text>
<text x="537.9" y="401.2" font-size="8" text-anchor="middle">0.<tspan dx="1.4">55</tspan></text>
<text x="318" y="261.9" font-size="8" text-anchor="end">0.<tspan dx="1.4">15</tspan></text>
<text x="318" y="293.9" font-size="8" text-anchor="end">0.<tspan dx="1.4">1</tspan></text>
<text x="318" y="325.9" font-size="8" text-anchor="end">0.<tspan dx="1.4">05</tspan></text>
<text x="318" y="357.9" font-size="8" text-anchor="end">0</text>
<text x="318" y="389.9" font-size="8" text-anchor="end">-0.<tspan dx="1.4">05</tspan></text>
<text x="432.9" y="413.1" font-size="8" text-anchor="middle">Z<tspan dx="1">'</tspan><tspan dx="1.2">（</tspan><tspan dx="1">Ω</tspan><tspan dx="1">）</tspan></text>
<text transform="translate(294.9 310.4) rotate(-90)" font-size="8" text-anchor="middle">-Z<tspan dx="1">'</tspan><tspan dx="2.4">'</tspan><tspan dx="1.2">（</tspan><tspan dx="1">Ω</tspan><tspan dx="1">）</tspan></text>
</g>
<text x="426.1" y="427" font-family='"Liberation Serif",serif' font-size="11.3" text-anchor="middle" fill="#000">(<tspan font-weight="bold">d</tspan>)</text>
<rect x="322.4" y="233.1" width="118" height="49.4" fill="#fff" stroke="#5a5a5a" stroke-width="0.7"/>
<g font-family='"Liberation Sans","Noto Sans CJK SC",sans-serif' font-size="5.9" fill="#111">
<path d="M324.1 237h14.5" stroke="#FF00FF" stroke-width="1.4"/>
<text x="340.1" y="239.1" textLength="21.3" lengthAdjust="spacingAndGlyphs">SOC=100%</text>
<path d="M324.1 243.9h14.5" stroke="#0000FF" stroke-width="1.4"/>
<text x="340.1" y="246" textLength="18.6" lengthAdjust="spacingAndGlyphs">SOC=95%</text>
<path d="M324.1 250.9h14.5" stroke="#000000" stroke-width="1.4"/>
<text x="340.1" y="252.9" textLength="18.6" lengthAdjust="spacingAndGlyphs">SOC=90%</text>
<path d="M324.1 257.8h14.5" stroke="#FF0000" stroke-width="1.4"/>
<text x="340.1" y="259.8" textLength="18.6" lengthAdjust="spacingAndGlyphs">SOC=85%</text>
<path d="M324.1 264.7h14.5" stroke="#FF99DD" stroke-width="1.4"/>
<text x="340.1" y="266.8" textLength="18.6" lengthAdjust="spacingAndGlyphs">SOC=80%</text>
<path d="M324.1 271.6h14.5" stroke="#6B8E6B" stroke-width="1.4"/>
<text x="340.1" y="273.7" textLength="18.6" lengthAdjust="spacingAndGlyphs">SOC=75%</text>
<path d="M324.1 278.6h14.5" stroke="#FFE4C4" stroke-width="1.4"/>
<text x="340.1" y="280.6" textLength="18.6" lengthAdjust="spacingAndGlyphs">SOC=70%</text>
<path d="M365.5 237h13.9" stroke="#00FF00" stroke-width="1.4"/>
<text x="380.9" y="239.1" textLength="18.6" lengthAdjust="spacingAndGlyphs">SOC=65%</text>
<path d="M365.5 243.9h13.9" stroke="#00E0D0" stroke-width="1.4"/>
<text x="380.9" y="246" textLength="18.6" lengthAdjust="spacingAndGlyphs">SOC=60%</text>
<path d="M365.5 250.9h13.9" stroke="#B8651B" stroke-width="1.4"/>
<text x="380.9" y="252.9" textLength="18.6" lengthAdjust="spacingAndGlyphs">SOC=55%</text>
<path d="M365.5 257.8h13.9" stroke="#FF7F50" stroke-width="1.4"/>
<text x="380.9" y="259.8" textLength="15.9" lengthAdjust="spacingAndGlyphs">SOC=50</text>
<path d="M365.5 264.7h13.9" stroke="#D02CF0" stroke-width="1.4"/>
<text x="380.9" y="266.8" textLength="18.6" lengthAdjust="spacingAndGlyphs">SOC=45%</text>
<path d="M365.5 271.6h13.9" stroke="#FFC0CB" stroke-width="1.4"/>
<text x="380.9" y="273.7" textLength="18.6" lengthAdjust="spacingAndGlyphs">SOC=40%</text>
<path d="M365.5 278.6h13.9" stroke="#FA8072" stroke-width="1.4"/>
<text x="380.9" y="280.6" textLength="18.6" lengthAdjust="spacingAndGlyphs">SOC=35%</text>
<path d="M403.5 237h13.8" stroke="#F2C318" stroke-width="1.4"/>
<text x="418.8" y="239.1" textLength="18.6" lengthAdjust="spacingAndGlyphs">SOC=30%</text>
<path d="M403.5 243.9h13.8" stroke="#B22222" stroke-width="1.4"/>
<text x="418.8" y="246" textLength="18.6" lengthAdjust="spacingAndGlyphs">SOC=25%</text>
<path d="M403.5 250.9h13.8" stroke="#D08C8C" stroke-width="1.4"/>
<text x="418.8" y="252.9" textLength="18.6" lengthAdjust="spacingAndGlyphs">SOC=20%</text>
<path d="M403.5 257.8h13.8" stroke="#2255CC" stroke-width="1.4"/>
<text x="418.8" y="259.8" textLength="18.6" lengthAdjust="spacingAndGlyphs">SOC=15%</text>
<path d="M403.5 264.7h13.8" stroke="#20B2AA" stroke-width="1.4"/>
<text x="418.8" y="266.8" textLength="18.6" lengthAdjust="spacingAndGlyphs">SOC=10%</text>
<path d="M403.5 271.6h13.8" stroke="#0A640A" stroke-width="1.4"/>
<text x="418.8" y="273.7" textLength="15.9" lengthAdjust="spacingAndGlyphs">SOC=5%</text>
<path d="M403.5 278.6h13.8" stroke="#B57BEE" stroke-width="1.4"/>
<text x="418.8" y="280.6" textLength="15.9" lengthAdjust="spacingAndGlyphs">SOC=0%</text>
</g>
<clipPath id="ce"><rect x="40" y="460.4" width="218.3" height="158.2"/></clipPath>
<g clip-path="url(#ce)" fill="none" stroke-width="1.3" stroke-linejoin="round" stroke-linecap="butt">
<path d="M45.6 599C45.5 598 45.1 595.2 45 593C44.9 590.8 44.8 588.5 45 586C45.2 583.5 45.6 580.3 46.3 578C47 575.7 47.8 574 49 572C50.2 570 51.8 567.9 53.6 566.3C55.3 564.7 55.2 564.1 59.6 562.3C63.9 560.5 74.9 557 79.6 555.3C84.2 553.6 84.6 553.4 87.6 552.1C90.5 550.8 93.3 548.3 97.3 547.5C101.3 546.7 107.8 546.7 111.8 547.3C115.8 547.9 118.3 549.5 121 551C123.7 552.5 125.6 555.1 128 556.4C130.4 557.6 133.3 559.1 135.5 558.5C137.7 557.9 139.1 556.1 141 553C142.9 549.9 145 544.7 147 540C149 535.3 151.2 529.7 153 525C154.8 520.3 156.2 516.4 158 512C159.8 507.6 163 500.8 164 498.5" stroke="#FF00FF"/>
<path d="M45.8 599C45.7 598 45.3 595.2 45.2 593C45.1 590.8 45 588.5 45.2 586C45.4 583.5 45.8 580.3 46.5 578C47.2 575.7 47.9 573.9 49.2 572C50.5 570.1 52.2 568.3 54 566.8C55.8 565.3 55.7 564.6 60 562.8C64.3 561 75.2 557.5 79.9 555.8C84.5 554.1 84.7 553.1 87.9 552.6C91.1 552.1 95.6 551.9 99 552.7C102.4 553.5 105.4 555.5 108 557.3C110.6 559.1 112.7 563.1 114.5 563.6C116.3 564.1 117.3 561.4 119 560C120.7 558.6 121.2 558.4 124.5 555.5C127.8 552.6 134.4 546.8 139 542.7C143.6 538.6 144.6 538.3 151.8 531C159 523.7 177 504.3 182 499" stroke="#0000FF"/>
<path d="M46 599C45.9 598 45.5 595.2 45.4 593C45.3 590.8 45.2 588.5 45.4 586C45.6 583.5 46 580.3 46.7 578C47.4 575.7 48.1 573.8 49.4 572C50.7 570.2 52.6 568.7 54.4 567.3C56.3 565.8 56.1 565.1 60.4 563.3C64.7 561.4 75.5 558 80.2 556.3C84.8 554.6 85.2 553.2 88.2 553.1C91.1 552.9 95.1 554 98 555.3C100.9 556.6 103.2 559.2 105.5 561C107.8 562.8 110.2 566.6 112 566C113.8 565.4 114.2 561.4 116.5 557.6C118.8 553.8 119.3 549.5 125.5 543.2C131.7 536.9 143.2 527.5 153.6 519.6C164 511.7 182.3 499.9 188 496" stroke="#000000"/>
<path d="M46.2 599C46.1 598 45.7 595.2 45.6 593C45.5 590.8 45.4 588.5 45.6 586C45.8 583.5 46.2 580.3 46.9 578C47.6 575.7 48.4 574 49.6 572C50.8 570 52.3 567.9 54 566.3C55.7 564.7 55.6 564.1 59.9 562.3C64.1 560.5 75 557 79.6 555.3C84.2 553.6 84.7 552.1 87.6 552.1C90.5 552.1 94.2 553.8 97 555.3C99.8 556.8 102.2 559.1 104.5 561C106.8 562.9 109.2 567.1 111 566.6C112.8 566.1 113.2 562 115.5 558.2C117.8 554.4 119 551.3 124.5 543.8C130 536.3 139.5 523.4 148.3 513.2C157.2 503 172.6 487.7 177.5 482.6" stroke="#FF0000"/>
<path d="M46.4 599C46.3 598 45.9 595.2 45.8 593C45.7 590.8 45.6 588.5 45.8 586C46 583.5 46.4 580.3 47.1 578C47.8 575.7 48.6 573.9 49.8 572C51 570.1 52.7 568.3 54.4 566.8C56.2 565.3 56 564.6 60.3 562.8C64.5 561 75.3 557.5 79.9 555.8C84.5 554.1 85 552.7 87.9 552.6C90.7 552.5 94.2 553.9 97 555.3C99.8 556.7 102.2 559.1 104.5 561C106.8 562.9 109.2 567.2 111 566.8C112.8 566.4 113.2 562.2 115.5 558.4C117.8 554.6 118.2 550.1 124.5 544C130.8 537.9 142.5 529.1 153.1 521.7C163.7 514.3 182.2 503.1 188 499.4" stroke="#FF99DD"/>
<path d="M46.6 599C46.5 598 46.1 595.2 46 593C45.9 590.8 45.8 588.5 46 586C46.2 583.5 46.6 580.3 47.3 578C48 575.7 48.7 573.8 50 572C51.3 570.2 53.1 568.7 54.9 567.3C56.6 565.8 56.5 565.1 60.7 563.3C64.9 561.4 75.6 558 80.2 556.3C84.8 554.6 85.4 553.2 88.2 553.1C90.9 552.9 93.9 554 96.5 555.3C99.1 556.6 101.7 559.1 104 561C106.3 562.9 108.7 567 110.5 566.5C112.3 566 112.8 561.9 115 558.1C117.2 554.3 118 550.4 124 543.7C130 537 140.9 526.3 150.8 517.7C160.7 509 178 495.9 183.5 491.6" stroke="#6B8E6B"/>
<path d="M46.8 599C46.7 598 46.3 595.2 46.2 593C46.1 590.8 46 588.5 46.2 586C46.4 583.5 46.8 580.3 47.5 578C48.2 575.7 49 574 50.2 572C51.4 570 52.8 567.9 54.4 566.3C56.1 564.7 56 564.1 60.2 562.3C64.4 560.5 75 557 79.6 555.3C84.1 553.6 84.8 552.1 87.6 552.1C90.4 552.1 93.8 553.8 96.5 555.3C99.2 556.8 101.7 559.1 104 561C106.3 562.9 108.7 567.2 110.5 566.8C112.3 566.4 112.8 562.2 115 558.4C117.2 554.6 119.8 549.6 124 544C128.2 538.4 134.2 531 140.2 524.5C146.2 518 156.7 508.2 160 505" stroke="#FFE4C4"/>
<path d="M47 599C46.9 598 46.5 595.2 46.4 593C46.3 590.8 46.2 588.5 46.4 586C46.6 583.5 47 580.3 47.7 578C48.4 575.7 49.2 573.9 50.4 572C51.6 570.1 53.2 568.3 54.9 566.8C56.5 565.3 56.4 564.6 60.6 562.8C64.7 561 75.3 557.5 79.9 555.8C84.4 554.1 85.1 552.7 87.9 552.6C90.6 552.5 93.8 553.9 96.5 555.3C99.2 556.7 101.7 559.1 104 561C106.3 562.9 108.7 567 110.5 566.5C112.3 566 112.8 561.9 115 558.1C117.2 554.3 120.5 548.9 124 543.7C127.5 538.5 131.4 532.5 135.7 526.9C140 521.2 147.6 512.8 150 510" stroke="#00FF00"/>
<path d="M47.2 599C47.1 598 46.7 595.2 46.6 593C46.5 590.8 46.4 588.5 46.6 586C46.8 583.5 47.2 580.3 47.9 578C48.6 575.7 49.4 573.8 50.6 572C51.8 570.2 53.6 568.7 55.3 567.3C57 565.8 56.8 565.1 61 563.3C65.1 561.4 75.6 558 80.2 556.3C84.7 554.6 85.4 553.2 88.2 553.1C91 552.9 94.3 554 97 555.3C99.7 556.6 102.2 559.1 104.5 561C106.8 562.9 109.2 567 111 566.5C112.8 566 113.2 561.9 115.5 558.1C117.8 554.3 120.7 549.3 124.5 543.7C128.3 538.1 133.1 530.8 138.2 524.4C143.3 517.9 152.2 508.2 155 505" stroke="#00E0D0"/>
<path d="M47.4 599C47.3 598 46.9 595.2 46.8 593C46.7 590.8 46.6 588.5 46.8 586C47 583.5 47.4 580.3 48.1 578C48.8 575.7 49.7 574 50.8 572C51.9 570 53.2 567.9 54.8 566.3C56.5 564.7 56.4 564.1 60.5 562.3C64.6 560.5 75.1 557 79.6 555.3C84.1 553.6 84.3 552.2 87.6 552.1C90.8 552 95.8 553.4 99 554.8C102.2 556.2 104.2 558.8 106.5 560.8C108.8 562.7 111.2 567 113 566.6C114.8 566.2 115.2 562 117.5 558.2C119.8 554.4 122.6 549.9 126.5 543.8C130.4 537.8 135.4 529.2 140.7 521.9C145.9 514.6 155.1 503.7 158 500" stroke="#B8651B"/>
<path d="M47.6 599C47.5 598 47.1 595.2 47 593C46.9 590.8 46.8 588.5 47 586C47.2 583.5 47.6 580.3 48.3 578C49 575.7 49.8 573.9 51 572C52.2 570.1 53.6 568.3 55.3 566.8C56.9 565.3 56.8 564.6 60.9 562.8C65 561 75.4 557.5 79.9 555.8C84.4 554.1 84.4 552.8 87.9 552.6C91.4 552.3 97.6 553 101 554.3C104.4 555.6 106.2 558.5 108.5 560.5C110.8 562.5 113.2 567 115 566.6C116.8 566.2 117.2 562 119.5 558.2C121.8 554.4 124.6 550.1 128.5 543.8C132.4 537.5 137.4 528.2 142.7 520.4C147.9 512.6 157.1 500.9 160 497" stroke="#FF7F50"/>
<path d="M47.8 599C47.7 598 47.3 595.2 47.2 593C47.1 590.8 47 588.5 47.2 586C47.4 583.5 47.8 580.3 48.5 578C49.2 575.7 50 573.8 51.2 572C52.4 570.2 54 568.7 55.7 567.3C57.4 565.8 57.2 565.1 61.3 563.3C65.3 561.4 75.7 558 80.2 556.3C84.7 554.6 84 553.5 88.2 553.1C92.3 552.6 100.9 552.3 105 553.5C109.1 554.7 110.2 558 112.5 560.1C114.8 562.2 117.2 566.4 119 566C120.8 565.6 121.2 561.4 123.5 557.6C125.8 553.8 128.6 549.3 132.5 543.2C136.4 537.1 141.4 528.3 146.7 520.9C151.9 513.4 161.1 502.2 164 498.5" stroke="#D02CF0"/>
<path d="M48 599C47.9 598 47.5 595.2 47.4 593C47.3 590.8 47.2 588.5 47.4 586C47.6 583.5 48 580.3 48.7 578C49.4 575.7 50.3 574 51.4 572C52.5 570 53.7 567.9 55.3 566.3C56.8 564.7 56.7 564.1 60.8 562.3C64.8 560.5 75.1 557 79.6 555.3C84 553.6 82.8 552.5 87.6 552.1C92.3 551.7 103.3 551.6 108 552.9C112.7 554.2 113.2 557.5 115.5 559.8C117.8 562.1 120.2 566.9 122 566.6C123.8 566.3 124.2 562 126.5 558.2C128.8 554.4 131.8 549.6 135.5 543.8C139.2 538 143.9 530.2 148.8 523.4C153.7 516.6 162.3 506.4 165 503" stroke="#FFC0CB"/>
<path d="M48.2 599C48.1 598 47.7 595.2 47.6 593C47.5 590.8 47.4 588.5 47.6 586C47.8 583.5 48.2 580.3 48.9 578C49.6 575.7 50.5 573.9 51.6 572C52.7 570.1 54.1 568.3 55.7 566.8C57.3 565.3 57.1 564.6 61.2 562.8C65.2 561 75.4 557.5 79.9 555.8C84.3 554.1 84.9 553.4 87.9 552.6C90.9 551.8 94.6 551.1 98 551C101.4 550.9 104.8 551 108 552C111.2 553 114.5 554.9 117.3 557.3C120 559.7 122.5 565.4 124.5 566.4C126.5 567.4 127.4 566.1 129 563C130.6 559.9 131.8 553.3 134 548C136.2 542.7 139 536.7 142 531C145 525.3 148.4 519.2 152 514C155.6 508.8 161.5 502.3 163.4 500" stroke="#FA8072"/>
<path d="M48.4 599C48.3 598 47.9 595.2 47.8 593C47.7 590.8 47.6 588.5 47.8 586C48 583.5 48.4 580.3 49.1 578C49.8 575.7 50.6 573.8 51.8 572C53 570.2 54.5 568.7 56.1 567.3C57.8 565.8 57.6 565.1 61.6 563.3C65.6 561.4 75.7 558 80.2 556.3C84.6 554.6 85.4 554.2 88.2 553.1C91 551.9 94 550.5 97 549.5C100 548.5 103 547 106.4 547.3C109.8 547.5 114 549 117.3 551C120.6 553 123.8 556.9 126.4 559C129 561.1 130.9 563.3 132.7 563.6C134.5 563.9 135.6 563.7 137.3 561C139 558.3 140.9 551.1 142.7 547.3C144.5 543.5 145.9 541 148 538C150.1 535 152.2 532 155 529C157.8 526 160.1 523.2 165 520C169.9 516.8 181.2 511.7 184.4 510" stroke="#F2C318"/>
<path d="M48.6 599C48.5 598 48.1 595.2 48 593C47.9 590.8 47.8 588.5 48 586C48.2 583.5 48.6 580.3 49.3 578C50 575.7 50.9 574 52 572C53.1 570 54.2 567.9 55.7 566.3C57.2 564.7 57.1 564.1 61.1 562.3C65.1 560.5 75.2 557 79.6 555.3C84 553.6 84.6 553.6 87.6 552.1C90.5 550.6 93.6 548 97.3 546.4C101 544.8 106.4 543.5 110 542.7C113.6 541.9 115.7 541.3 119 541.8C122.3 542.3 126.7 543.8 130 545.5C133.3 547.2 136 549.8 139 551.8C142 553.8 145.2 556.8 148 557.3C150.8 557.8 152.8 557.1 155.5 554.5C158.2 551.9 161.8 545.4 164.5 541.8C167.2 538.2 169.1 536.7 172 533C174.9 529.3 177.3 523.5 182 519.5C186.7 515.5 197 510.8 200 509" stroke="#B22222"/>
<path d="M48.8 599C48.7 598 48.3 595.2 48.2 593C48.1 590.8 48 588.5 48.2 586C48.4 583.5 48.8 580.3 49.5 578C50.2 575.7 51.1 573.9 52.2 572C53.3 570.1 54.6 568.3 56.1 566.8C57.7 565.3 57.5 564.6 61.5 562.8C65.4 561 75.5 557.5 79.9 555.8C84.3 554.1 85 554.3 87.9 552.6C90.7 550.9 93.3 547.8 97 545.5C100.7 543.2 105.4 540.8 110 538.5C114.6 536.2 119.7 533.2 124.5 531.8C129.3 530.4 134.2 529.4 139 530C143.8 530.6 149.1 533.3 153.6 535.5C158.1 537.7 162.5 541.2 166 543C169.5 544.8 172.2 545.9 174.5 546C176.8 546.1 178.2 544.7 180 543.5C181.8 542.3 181.7 542.8 185 539C188.3 535.2 195 527 200 521C205 515 209.6 508.8 215 503C220.4 497.2 229.5 489.2 232.4 486.5" stroke="#D08C8C"/>
<path d="M49 599C48.9 598 48.5 595.2 48.4 593C48.3 590.8 48.2 588.5 48.4 586C48.6 583.5 49 580.3 49.7 578C50.4 575.7 51.3 573.8 52.4 572C53.5 570.2 55 568.7 56.5 567.3C58.1 565.8 57.9 565.1 61.9 563.3C65.8 561.4 75.8 558 80.2 556.3C84.6 554.6 85.5 555 88.2 553.1C90.8 551.2 93.4 547.7 96 545C98.6 542.3 101.2 540 104 537C106.8 534 109.8 529.8 113 527C116.2 524.2 119.5 522 123 520C126.5 518 129.2 516.8 134 515C138.8 513.2 146.8 509.9 152 509C157.2 508.1 161.2 509.1 165 509.3C168.8 509.5 170.7 509.6 175 510C179.3 510.4 186.8 510.7 191 512C195.2 513.3 197 515.5 200 518C203 520.5 206.3 524.5 209 527C211.7 529.5 213.8 531.7 216 533C218.2 534.3 220.2 535.2 222.5 535C224.8 534.8 227.2 533.8 230 532C232.8 530.2 235.7 527.7 239 524C242.3 520.3 246.7 514.7 250 510C253.3 505.3 257.5 498.3 259 496" stroke="#2255CC"/>
<path d="M49.2 599C49.1 598 48.7 595.2 48.6 593C48.5 590.8 48.4 588.5 48.6 586C48.8 583.5 49.2 580.3 49.9 578C50.6 575.7 51.6 574 52.6 572C53.6 570 54.6 567.9 56.1 566.3C57.6 564.7 57.5 564.1 61.4 562.3C65.3 560.5 75.2 557 79.6 555.3C83.9 553.6 84.8 553.7 87.6 552.1C90.3 550.5 93.3 547.9 96 545.5C98.7 543.1 100.2 541.6 104 537.5C107.8 533.4 113 527.2 119 521C125 514.8 134.8 505 140 500C145.2 495 146.5 493.8 150 491C153.5 488.2 157.7 485.5 161 483.5C164.3 481.5 167 480.1 170 479C173 477.9 174 477.6 179 476.6C184 475.6 191.5 474 200 473C208.5 472 220.2 471.6 230 470.6C239.8 469.6 254.2 467.6 259 467" stroke="#20B2AA"/>
<path d="M49.4 599C49.3 598 48.9 595.2 48.8 593C48.7 590.8 48.6 588.5 48.8 586C49 583.5 49.4 580.3 50.1 578C50.8 575.7 51.7 573.9 52.8 572C53.9 570.1 55 568.3 56.5 566.8C58 565.3 57.9 564.6 61.8 562.8C65.7 561 75.5 557.5 79.9 555.8C84.2 554.1 85.2 554.2 87.9 552.6C90.6 551 92.8 548.5 96 546C99.2 543.5 102.7 541.4 107 537.5C111.3 533.6 117 528 122 522.5C127 517 132.5 510.8 137 504.5C141.5 498.2 145.2 490.8 149 485C152.8 479.2 156.2 474.2 159.5 470C162.8 465.8 167.4 461.3 169 459.6" stroke="#0A640A"/>
<path d="M49.6 599C49.5 598 49.1 595.2 49 593C48.9 590.8 48.8 588.5 49 586C49.2 583.5 49.6 580.3 50.3 578C51 575.7 51.9 573.8 53 572C54.1 570.2 55.4 568.7 57 567.3C58.5 565.8 58.3 565.1 62.2 563.3C66 561.4 75.8 558 80.2 556.3C84.5 554.6 85.4 554.4 88.2 553.1C91 551.8 94.4 549.7 97 548.5C99.6 547.3 101.3 547.1 104 546C106.7 544.9 109 545.2 113 542C117 538.8 124 531.8 128 527C132 522.2 134.2 517.5 137 513C139.8 508.5 141.5 505.4 144.5 500C147.5 494.6 151.6 487.2 155 480.5C158.4 473.8 163.3 463.1 165 459.6" stroke="#B57BEE"/>
</g>
<rect x="40" y="460.4" width="218.3" height="158.2" fill="none" stroke="#7c7c7c" stroke-width="1"/>
<path d="M59.2 618.6v-2.7 M59.2 460.4v2.7M82.3 618.6v-2.7 M82.3 460.4v2.7M105.3 618.6v-2.7 M105.3 460.4v2.7M128.4 618.6v-2.7 M128.4 460.4v2.7M151.4 618.6v-2.7 M151.4 460.4v2.7M174.5 618.6v-2.7 M174.5 460.4v2.7M197.6 618.6v-2.7 M197.6 460.4v2.7M220.6 618.6v-2.7 M220.6 460.4v2.7M243.7 618.6v-2.7 M243.7 460.4v2.7M40 488h2.7 M258.3 488h-2.7M40 516.4h2.7 M258.3 516.4h-2.7M40 544.8h2.7 M258.3 544.8h-2.7M40 573.2h2.7 M258.3 573.2h-2.7M40 601.6h2.7 M258.3 601.6h-2.7" stroke="#4a4a4a" stroke-width="0.7" fill="none"/>
<g fill="#262626" font-family='"Liberation Sans","Noto Sans CJK SC",sans-serif'>
<text x="59.2" y="629.8" font-size="8" text-anchor="middle">0.<tspan dx="1.4">3</tspan></text>
<text x="82.3" y="629.8" font-size="8" text-anchor="middle">0.<tspan dx="1.4">35</tspan></text>
<text x="105.3" y="629.8" font-size="8" text-anchor="middle">0.<tspan dx="1.4">4</tspan></text>
<text x="128.4" y="629.8" font-size="8" text-anchor="middle">0.<tspan dx="1.4">45</tspan></text>
<text x="151.4" y="629.8" font-size="8" text-anchor="middle">0.<tspan dx="1.4">5</tspan></text>
<text x="174.5" y="629.8" font-size="8" text-anchor="middle">0.<tspan dx="1.4">55</tspan></text>
<text x="197.6" y="629.8" font-size="8" text-anchor="middle">0.<tspan dx="1.4">6</tspan></text>
<text x="220.6" y="629.8" font-size="8" text-anchor="middle">0.<tspan dx="1.4">65</tspan></text>
<text x="243.7" y="629.8" font-size="8" text-anchor="middle">0.<tspan dx="1.4">7</tspan></text>
<text x="36.5" y="490.9" font-size="8" text-anchor="end">0.<tspan dx="1.4">15</tspan></text>
<text x="36.5" y="519.3" font-size="8" text-anchor="end">0.<tspan dx="1.4">1</tspan></text>
<text x="36.5" y="547.7" font-size="8" text-anchor="end">0.<tspan dx="1.4">05</tspan></text>
<text x="36.5" y="576.1" font-size="8" text-anchor="end">0</text>
<text x="36.5" y="604.5" font-size="8" text-anchor="end">-0.<tspan dx="1.4">05</tspan></text>
<text x="151.5" y="641.5" font-size="8" text-anchor="middle">Z<tspan dx="1">'</tspan><tspan dx="1.2">（</tspan><tspan dx="1">Ω</tspan><tspan dx="1">）</tspan></text>
<text transform="translate(13.6 538.5) rotate(-90)" font-size="8" text-anchor="middle">-Z<tspan dx="1">'</tspan><tspan dx="2.4">'</tspan><tspan dx="1.2">（</tspan><tspan dx="1">Ω</tspan><tspan dx="1">）</tspan></text>
</g>
<text x="144.4" y="655.2" font-family='"Liberation Serif",serif' font-size="11.3" text-anchor="middle" fill="#000">(<tspan font-weight="bold">e</tspan>)</text>
<rect x="134.6" y="565.2" width="122.9" height="52.9" fill="#fff" stroke="#5a5a5a" stroke-width="0.7"/>
<g font-family='"Liberation Sans","Noto Sans CJK SC",sans-serif' font-size="6.4" fill="#111">
<path d="M136.4 569.5h14.6" stroke="#FF00FF" stroke-width="1.4"/>
<text x="152.5" y="571.7" textLength="22.9" lengthAdjust="spacingAndGlyphs">SOC=100%</text>
<path d="M136.4 576.9h14.6" stroke="#0000FF" stroke-width="1.4"/>
<text x="152.5" y="579.1" textLength="20" lengthAdjust="spacingAndGlyphs">SOC=95%</text>
<path d="M136.4 584.3h14.6" stroke="#000000" stroke-width="1.4"/>
<text x="152.5" y="586.5" textLength="20" lengthAdjust="spacingAndGlyphs">SOC=90%</text>
<path d="M136.4 591.7h14.6" stroke="#FF0000" stroke-width="1.4"/>
<text x="152.5" y="593.9" textLength="20" lengthAdjust="spacingAndGlyphs">SOC=85%</text>
<path d="M136.4 599.1h14.6" stroke="#FF99DD" stroke-width="1.4"/>
<text x="152.5" y="601.3" textLength="20" lengthAdjust="spacingAndGlyphs">SOC=80%</text>
<path d="M136.4 606.5h14.6" stroke="#6B8E6B" stroke-width="1.4"/>
<text x="152.5" y="608.7" textLength="20" lengthAdjust="spacingAndGlyphs">SOC=75%</text>
<path d="M136.4 613.9h14.6" stroke="#FFE4C4" stroke-width="1.4"/>
<text x="152.5" y="616.1" textLength="20" lengthAdjust="spacingAndGlyphs">SOC=70%</text>
<path d="M179 569.5h14.6" stroke="#00FF00" stroke-width="1.4"/>
<text x="195.1" y="571.7" textLength="20" lengthAdjust="spacingAndGlyphs">SOC=65%</text>
<path d="M179 576.9h14.6" stroke="#00E0D0" stroke-width="1.4"/>
<text x="195.1" y="579.1" textLength="20" lengthAdjust="spacingAndGlyphs">SOC=60%</text>
<path d="M179 584.3h14.6" stroke="#B8651B" stroke-width="1.4"/>
<text x="195.1" y="586.5" textLength="20" lengthAdjust="spacingAndGlyphs">SOC=55%</text>
<path d="M179 591.7h14.6" stroke="#FF7F50" stroke-width="1.4"/>
<text x="195.1" y="593.9" textLength="17.1" lengthAdjust="spacingAndGlyphs">SOC=50</text>
<path d="M179 599.1h14.6" stroke="#D02CF0" stroke-width="1.4"/>
<text x="195.1" y="601.3" textLength="20" lengthAdjust="spacingAndGlyphs">SOC=45%</text>
<path d="M179 606.5h14.6" stroke="#FFC0CB" stroke-width="1.4"/>
<text x="195.1" y="608.7" textLength="20" lengthAdjust="spacingAndGlyphs">SOC=40%</text>
<path d="M179 613.9h14.6" stroke="#FA8072" stroke-width="1.4"/>
<text x="195.1" y="616.1" textLength="20" lengthAdjust="spacingAndGlyphs">SOC=35%</text>
<path d="M219 569.5h14.6" stroke="#F2C318" stroke-width="1.4"/>
<text x="235.1" y="571.7" textLength="20" lengthAdjust="spacingAndGlyphs">SOC=30%</text>
<path d="M219 576.9h14.6" stroke="#B22222" stroke-width="1.4"/>
<text x="235.1" y="579.1" textLength="20" lengthAdjust="spacingAndGlyphs">SOC=25%</text>
<path d="M219 584.3h14.6" stroke="#D08C8C" stroke-width="1.4"/>
<text x="235.1" y="586.5" textLength="20" lengthAdjust="spacingAndGlyphs">SOC=20%</text>
<path d="M219 591.7h14.6" stroke="#2255CC" stroke-width="1.4"/>
<text x="235.1" y="593.9" textLength="20" lengthAdjust="spacingAndGlyphs">SOC=15%</text>
<path d="M219 599.1h14.6" stroke="#20B2AA" stroke-width="1.4"/>
<text x="235.1" y="601.3" textLength="20" lengthAdjust="spacingAndGlyphs">SOC=10%</text>
<path d="M219 606.5h14.6" stroke="#0A640A" stroke-width="1.4"/>
<text x="235.1" y="608.7" textLength="17.1" lengthAdjust="spacingAndGlyphs">SOC=5%</text>
<path d="M219 613.9h14.6" stroke="#B57BEE" stroke-width="1.4"/>
<text x="235.1" y="616.1" textLength="17.1" lengthAdjust="spacingAndGlyphs">SOC=0%</text>
</g>
<clipPath id="cf"><rect x="321.5" y="460.4" width="218.6" height="158.6"/></clipPath>
<g clip-path="url(#cf)" fill="none" stroke-width="1.3" stroke-linejoin="round" stroke-linecap="butt">
<path d="M327.6 592.8C327.6 591.5 327.4 587.5 327.5 585.3C327.6 583.1 327.8 581.4 328.1 579.8C328.4 578.2 328.7 576.8 329.4 575.5C330 574.2 330.8 573.2 331.9 572.3C333 571.3 333.8 571.1 336.1 569.8C338.4 568.5 342.2 566.3 345.8 564.3C349.4 562.2 353.2 558.5 357.6 557.5C361.9 556.5 368.1 557.3 372 558.5C375.9 559.7 378 562.6 380.7 564.8C383.4 566.9 386.1 571.8 388 571.5C389.9 571.2 390.6 566.4 392.3 562.8C394 559.2 394.9 553.9 398.1 549.7C401.3 545.5 407.1 541.3 411.6 537.4C416 533.4 422.8 527.9 425 526" stroke="#FF00FF"/>
<path d="M327.7 592.8C327.7 591.6 327.7 587.9 327.8 585.8C328 583.7 328.1 581.9 328.4 580.3C328.8 578.7 329.1 577.2 329.7 576C330.4 574.7 331.1 573.7 332.2 572.8C333.4 571.8 334.1 571.6 336.4 570.3C338.8 569 342.5 566.8 346.1 564.8C349.6 562.7 353.9 559 357.9 558C361.9 557 366.5 557.8 370 559C373.5 560.2 376 563 378.7 565C381.4 567 384.1 571.5 386 571C387.9 570.5 388.6 565.9 390.3 562.3C392 558.7 393 553.6 396.1 549.2C399.2 544.8 404.7 540.2 409.1 535.9C413.4 531.6 419.8 525.6 422 523.6" stroke="#0000FF"/>
<path d="M327.8 592.8C327.8 591.7 328 588.3 328.2 586.3C328.4 584.3 328.5 582.4 328.8 580.8C329.1 579.1 329.5 577.7 330.1 576.5C330.8 575.2 331.5 574.2 332.6 573.3C333.7 572.3 334.5 572.1 336.8 570.8C339.1 569.4 342.8 567.3 346.4 565.3C349.9 563.2 354.2 559.5 358.2 558.5C362.1 557.4 366.6 557.9 370 559C373.4 560.1 376 562.9 378.7 565C381.4 567.1 384.1 571.9 386 571.5C387.9 571.1 388.6 566.4 390.3 562.8C392 559.2 393.1 553.3 396.1 549.7C399.1 546.1 404.1 543.8 408.1 541C412 538.2 418 534.3 420 533" stroke="#000000"/>
<path d="M327.8 592.8C327.8 591.5 327.6 587.5 327.7 585.3C327.8 583.1 328 581.4 328.3 579.8C328.6 578.2 329 576.8 329.6 575.5C330.2 574.2 331 573.2 332.1 572.3C333.2 571.3 334 571.1 336.3 569.8C338.6 568.5 342.2 566.3 345.8 564.3C349.3 562.2 353.6 558.4 357.6 557.5C361.5 556.6 366.1 557.8 369.5 559C372.9 560.2 375.5 562.8 378.2 565C380.9 567.2 383.6 572.3 385.5 572C387.4 571.7 388.1 566.9 389.8 563.3C391.5 559.7 392 554.2 395.6 550.2C399.2 546.2 406.1 542.7 411.3 539.2C416.5 535.6 424.4 530.7 427 529" stroke="#FF0000"/>
<path d="M327.9 592.8C327.9 591.6 327.9 587.9 328.1 585.8C328.2 583.7 328.4 581.9 328.7 580.3C329 578.7 329.3 577.2 330 576C330.6 574.7 331.4 573.7 332.5 572.8C333.6 571.8 334.4 571.6 336.7 570.3C338.9 569 342.5 566.8 346.1 564.8C349.6 562.7 354 559 357.9 558C361.8 557 366.1 557.8 369.5 559C372.9 560.2 375.5 562.8 378.2 565C380.9 567.2 383.6 572.5 385.5 572.2C387.4 572 388.1 567.1 389.8 563.5C391.5 559.9 392.9 555.2 395.6 550.4C398.4 545.6 402.7 539.7 406.3 534.6C409.9 529.5 415.2 522.4 417 520" stroke="#FF99DD"/>
<path d="M328 592.8C328.1 591.7 328.3 588.3 328.4 586.3C328.6 584.3 328.7 582.4 329 580.8C329.4 579.1 329.7 577.7 330.3 576.5C331 575.2 331.7 574.2 332.8 573.3C334 572.3 334.8 572.1 337 570.8C339.3 569.4 342.8 567.3 346.4 565.3C349.9 563.2 354.4 559.5 358.2 558.5C361.9 557.4 365.7 557.9 369 559C372.3 560.1 375 562.8 377.7 565C380.4 567.2 383.1 572.3 385 572C386.9 571.7 387.6 566.9 389.3 563.3C391 559.7 392.4 555 395.1 550.2C397.8 545.4 402.1 539.5 405.6 534.5C409 529.5 414.3 522.4 416 520" stroke="#6B8E6B"/>
<path d="M328.1 592.8C328 591.5 327.8 587.5 327.9 585.3C328 583.1 328.2 581.4 328.5 579.8C328.8 578.2 329.2 576.8 329.8 575.5C330.5 574.2 331.2 573.2 332.3 572.3C333.4 571.3 334.3 571.1 336.5 569.8C338.8 568.5 342.3 566.3 345.8 564.3C349.3 562.2 353.8 558.4 357.6 557.5C361.4 556.6 365.2 557.8 368.5 559C371.8 560.2 374.5 562.9 377.2 565C379.9 567.1 382.6 571.9 384.5 571.5C386.4 571.1 387.1 566.4 388.8 562.8C390.5 559.2 392.4 553.6 394.6 549.7C396.9 545.8 399.7 542.7 402.3 539.5C404.9 536.2 408.7 531.6 410 530" stroke="#FFE4C4"/>
<path d="M328.1 592.8C328.2 591.6 328.2 587.9 328.3 585.8C328.4 583.7 328.6 581.9 328.9 580.3C329.2 578.7 329.6 577.2 330.2 576C330.8 574.7 331.6 573.7 332.7 572.8C333.8 571.8 334.7 571.6 336.9 570.3C339.1 569 342.6 566.8 346.1 564.8C349.6 562.7 354.1 559 357.9 558C361.6 557 365.3 557.8 368.5 559C371.7 560.2 374.5 563 377.2 565C379.9 567 382.6 571.5 384.5 571C386.4 570.5 387.1 565.9 388.8 562.3C390.5 558.7 392.5 553.2 394.6 549.2C396.7 545.2 399.1 541.7 401.3 538.2C403.5 534.6 406.9 529.7 408 528" stroke="#00FF00"/>
<path d="M328.2 592.8C328.3 591.7 328.5 588.3 328.7 586.3C328.8 584.3 329 582.4 329.3 580.8C329.6 579.1 329.9 577.7 330.6 576.5C331.2 575.2 332 574.2 333.1 573.3C334.2 572.3 335.1 572.1 337.3 570.8C339.5 569.4 342.9 567.3 346.4 565.3C349.9 563.2 354.4 559.5 358.2 558.5C361.9 557.4 365.7 557.9 369 559C372.3 560.1 375 562.9 377.7 565C380.4 567.1 383.1 571.9 385 571.5C386.9 571.1 387.6 566.4 389.3 562.8C391 559.2 392.8 554.1 395.1 549.7C397.4 545.3 400.4 540.6 403.1 536.3C405.7 532.1 409.7 526.1 411 524" stroke="#00E0D0"/>
<path d="M328.3 592.8C328.3 591.5 328.1 587.5 328.2 585.3C328.2 583.1 328.4 581.4 328.8 579.8C329.1 578.2 329.4 576.8 330.1 575.5C330.7 574.2 331.4 573.2 332.6 572.3C333.7 571.3 334.6 571.1 336.8 569.8C339 568.5 342.3 566.3 345.8 564.3C349.3 562.2 353.5 558.5 357.6 557.5C361.6 556.5 366.5 557.3 370 558.5C373.5 559.7 376 562.5 378.7 564.8C381.4 567 384.1 572.2 386 572C387.9 571.8 388.6 566.9 390.3 563.3C392 559.7 393.8 555.1 396.1 550.2C398.4 545.3 401.5 539.3 404.2 534.2C407 529.1 411 521.9 412.4 519.4" stroke="#B8651B"/>
<path d="M328.4 592.8C328.4 591.6 328.4 587.9 328.5 585.8C328.7 583.7 328.8 581.9 329.1 580.3C329.4 578.7 329.8 577.2 330.4 576C331.1 574.7 331.8 573.7 332.9 572.8C334 571.8 334.9 571.6 337.1 570.3C339.3 569 342.6 566.8 346.1 564.8C349.5 562.7 353.6 559.1 357.9 558C362.2 556.9 368.2 556.9 372 558C375.8 559.1 378 562.2 380.7 564.5C383.4 566.8 386.1 572.2 388 572C389.9 571.8 390.6 566.9 392.3 563.3C394 559.7 395.7 554.9 398.1 550.2C400.5 545.5 403.7 539.9 406.6 535C409.4 530.1 413.6 523.3 415 521" stroke="#FF7F50"/>
<path d="M328.4 592.8C328.5 591.7 328.7 588.3 328.9 586.3C329.1 584.3 329.2 582.4 329.5 580.8C329.8 579.1 330.2 577.7 330.8 576.5C331.4 575.2 332.2 574.2 333.3 573.3C334.4 572.3 335.3 572.1 337.5 570.8C339.7 569.4 342.9 567.3 346.4 565.3C349.8 563.2 353.6 559.8 358.2 558.5C362.8 557.1 369.9 556.3 374 557.2C378.1 558.1 380 561.6 382.7 564.1C385.4 566.6 388.1 572.1 390 572C391.9 571.9 392.6 566.9 394.3 563.3C396 559.7 397.6 554.7 400.1 550.2C402.6 545.7 406.1 540.9 409.1 536.6C412 532.2 416.5 526.1 418 524" stroke="#D02CF0"/>
<path d="M328.5 592.8C328.5 591.5 328.3 587.5 328.4 585.3C328.5 583.1 328.7 581.4 329 579.8C329.3 578.2 329.6 576.8 330.3 575.5C330.9 574.2 331.7 573.2 332.8 572.3C333.9 571.3 334.8 571.1 337 569.8C339.1 568.5 342.3 566.3 345.8 564.3C349.2 562.2 352.5 558.8 357.6 557.5C362.7 556.2 371.9 555.4 376.5 556.4C381.1 557.4 382.5 561.1 385.2 563.7C387.9 566.3 390.6 572.1 392.5 572C394.4 571.9 395.1 566.9 396.8 563.3C398.5 559.7 400.3 554.7 402.6 550.2C404.9 545.7 408.1 540.6 410.8 536.1C413.5 531.5 417.6 525.2 419 523" stroke="#FFC0CB"/>
<path d="M328.6 592.8C328.6 591.6 328.6 587.9 328.7 585.8C328.9 583.7 329 581.9 329.3 580.3C329.7 578.7 330 577.2 330.6 576C331.3 574.7 332 573.7 333.1 572.8C334.3 571.8 335.2 571.6 337.3 570.3C339.5 569 342.7 566.8 346.1 564.8C349.5 562.7 354.6 559.5 357.9 558C361.2 556.5 363.3 556.5 366 556C368.7 555.5 371.3 554.7 374 555C376.7 555.3 379.5 556.5 382 558C384.5 559.5 386.7 561.8 389 564C391.3 566.2 393.8 571.2 395.6 571.5C397.4 571.8 398.4 569.1 400 566C401.6 562.9 403.2 557.8 405 553C406.8 548.2 409 542.3 411 537C413 531.7 416 523.7 417 521" stroke="#FA8072"/>
<path d="M328.7 592.8C328.7 591.7 328.9 588.3 329.1 586.3C329.3 584.3 329.4 582.4 329.7 580.8C330 579.1 330.4 577.7 331 576.5C331.7 575.2 332.4 574.2 333.5 573.3C334.6 572.3 335.6 572.1 337.7 570.8C339.9 569.4 343 567.3 346.4 565.3C349.8 563.2 354.6 560.4 358.2 558.5C361.8 556.6 364.7 555.2 368 554C371.3 552.8 374.8 551 378.2 551C381.6 551 385.5 552.7 388.4 554C391.3 555.3 393.5 557.2 395.6 559C397.7 560.8 399.1 563.3 401 565C402.9 566.7 405.2 569.2 407 569C408.8 568.8 410.3 566.7 412 564C413.7 561.3 415.3 556.7 417 553C418.7 549.3 420.2 545.8 422 542C423.8 538.2 427 532 428 530" stroke="#F2C318"/>
<path d="M328.7 592.8C328.7 591.5 328.5 587.5 328.6 585.3C328.7 583.1 328.9 581.4 329.2 579.8C329.5 578.2 329.9 576.8 330.5 575.5C331.1 574.2 331.9 573.2 333 572.3C334.1 571.3 335.1 571.1 337.2 569.8C339.3 568.5 342.4 566.3 345.8 564.3C349.2 562.2 353.4 559.6 357.6 557.5C361.8 555.4 367.1 553.5 371 551.8C374.9 550.1 377.9 548.4 381 547.5C384.1 546.6 387.1 546.5 389.8 546.7C392.5 547 394 547.2 397 549C400 550.8 404.5 555 408 557.5C411.5 560 415.2 563.6 418 564C420.8 564.4 422.5 562.3 424.5 560C426.5 557.7 428.2 553.3 430 550C431.8 546.7 433.4 543.3 435 540C436.6 536.7 438.8 531.7 439.6 530" stroke="#B22222"/>
<path d="M328.8 592.8C328.8 591.6 328.8 587.9 329 585.8C329.1 583.7 329.3 581.9 329.6 580.3C329.9 578.7 330.2 577.2 330.9 576C331.5 574.7 332.3 573.7 333.4 572.8C334.5 571.8 335.5 571.6 337.6 570.3C339.7 569 342.7 566.8 346.1 564.8C349.5 562.7 354.2 560 357.9 558C361.5 556 364.6 555 368 553C371.4 551 374.6 548 378.2 546C381.8 544 386.2 542.1 389.8 541C393.4 539.9 396.6 539.3 400 539.5C403.4 539.7 406.7 540.6 410 542C413.3 543.4 416.7 546 420 548C423.3 550 427.1 552.8 430 554.3C432.9 555.8 435.2 557 437.5 557C439.8 557 441.8 555.8 443.5 554C445.2 552.2 446.6 549 448 546C449.4 543 450.7 539.5 452 536C453.3 532.5 455.3 526.8 456 525" stroke="#D08C8C"/>
<path d="M328.9 592.8C329 591.7 329.2 588.3 329.3 586.3C329.5 584.3 329.6 582.4 329.9 580.8C330.3 579.1 330.6 577.7 331.2 576.5C331.9 575.2 332.6 574.2 333.7 573.3C334.9 572.3 335.8 572.1 337.9 570.8C340 569.4 343 567.3 346.4 565.3C349.7 563.2 354.6 560.6 358.2 558.5C361.8 556.4 364.5 555.5 368 552.5C371.5 549.5 375.3 543.9 379 540.5C382.7 537.1 386.7 534.3 390 532.3C393.3 530.3 395.7 529.4 399 528.6C402.3 527.8 406.3 527.1 410 527.4C413.7 527.7 417.4 528.3 421 530.5C424.6 532.7 428.2 537.3 431.8 540.5C435.4 543.7 439.9 547.5 442.7 549.5C445.5 551.5 446.7 552 448.5 552.8C450.3 553.5 451.9 554 453.6 554C455.3 554 457 553.5 458.5 552.8C460 552 461.1 552.5 462.7 549.5C464.3 546.5 466.4 539.5 468.2 535C470 530.5 471.4 527.2 473.4 522.5C475.4 517.8 479.2 509.6 480.4 507" stroke="#2255CC"/>
<path d="M329 592.8C328.9 591.5 328.8 587.5 328.8 585.3C328.9 583.1 329.1 581.4 329.4 579.8C329.7 578.2 330.1 576.8 330.7 575.5C331.4 574.2 332.1 573.2 333.2 572.3C334.3 571.3 335.3 571.1 337.4 569.8C339.5 568.5 342.4 566.3 345.8 564.3C349.1 562.2 354 559.4 357.6 557.5C361.1 555.6 364 554.9 367 553C370 551.1 372.8 548.6 375.3 546C377.8 543.4 379.9 540.2 382 537.5C384.1 534.8 385.9 532 388.2 529.5C390.4 527 392.8 524.5 395.5 522.3C398.2 520 401.8 517.7 404.5 516C407.2 514.3 409.6 513.1 411.8 512.3C414.1 511.5 415.9 511.4 418 511.3C420.1 511.2 420.4 511.1 424.5 511.7C428.6 512.3 435.1 514 442.7 515C450.3 516 462.8 516.8 470 517.7C477.2 518.6 482 519.9 486 520.5C490 521.1 491.5 521.5 494 521.3C496.5 521 498.6 520.2 501 519C503.4 517.8 505.4 516.3 508.2 514.3C511 512.3 514.7 509.6 518 507C521.3 504.4 526.2 500.2 527.9 498.8" stroke="#20B2AA"/>
<path d="M329 592.8C329.1 591.6 329.1 587.9 329.2 585.8C329.3 583.7 329.5 581.9 329.8 580.3C330.1 578.7 330.5 577.2 331.1 576C331.7 574.7 332.5 573.7 333.6 572.8C334.7 571.8 335.7 571.6 337.8 570.3C339.9 569 342.7 566.8 346.1 564.8C349.4 562.7 354.4 560 357.9 558C361.4 556 364.1 555.1 367 553C369.9 550.9 372.5 548.2 375.3 545.3C378.1 542.4 380.9 539.9 384 535.8C387.1 531.7 390.2 524.9 393.6 520.5C397 516.1 401.8 513 404.5 509.5C407.2 506 407.6 502.2 410 499.5C412.4 496.8 415.7 495.2 419 493.2C422.3 491.2 426.1 489.1 430 487.7C433.9 486.2 436 485.9 442.7 484.5C449.4 483.1 461.1 481.1 470 479.5C478.9 477.9 488.3 475.6 496 474.6C503.7 473.6 511.1 473.5 516.4 473.4C521.7 473.3 523.9 473.6 528 474C532.1 474.4 538.8 475.3 541 475.6" stroke="#0A640A"/>
<path d="M329.1 592.8C329.2 591.7 329.4 588.3 329.6 586.3C329.7 584.3 329.9 582.4 330.2 580.8C330.5 579.1 330.8 577.7 331.5 576.5C332.1 575.2 332.9 574.2 334 573.3C335.1 572.3 336.1 572.1 338.2 570.8C340.2 569.4 343 567.3 346.4 565.3C349.7 563.2 354.7 560.5 358.2 558.5C361.6 556.5 364.1 555.4 367 553.2C369.9 551 372.5 548.5 375.3 545.5C378.1 542.5 381.2 538.6 384 535C386.8 531.4 389.6 527.6 391.8 524C394 520.4 394.9 517.1 397.3 513.2C399.7 509.3 403.4 505 406.4 500.5C409.4 496 412.8 490.9 415.5 486C418.2 481.1 420.2 475.8 422.7 471.4C425.2 467 429.2 461.5 430.5 459.5" stroke="#B57BEE"/>
</g>
<rect x="321.5" y="460.4" width="218.6" height="158.6" fill="none" stroke="#7c7c7c" stroke-width="1"/>
<path d="M354.3 619v-2.7 M354.3 460.4v2.7M399.9 619v-2.7 M399.9 460.4v2.7M445.5 619v-2.7 M445.5 460.4v2.7M491.1 619v-2.7 M491.1 460.4v2.7M536.7 619v-2.7 M536.7 460.4v2.7M321.5 476.1h2.7 M540.1 476.1h-2.7M321.5 493.3h2.7 M540.1 493.3h-2.7M321.5 510.5h2.7 M540.1 510.5h-2.7M321.5 527.7h2.7 M540.1 527.7h-2.7M321.5 544.9h2.7 M540.1 544.9h-2.7M321.5 562.1h2.7 M540.1 562.1h-2.7M321.5 579.3h2.7 M540.1 579.3h-2.7M321.5 596.5h2.7 M540.1 596.5h-2.7M321.5 613.7h2.7 M540.1 613.7h-2.7" stroke="#4a4a4a" stroke-width="0.7" fill="none"/>
<g fill="#262626" font-family='"Liberation Sans","Noto Sans CJK SC",sans-serif'>
<text x="354.3" y="629.8" font-size="8" text-anchor="middle">0.<tspan dx="1.4">4</tspan></text>
<text x="399.9" y="629.8" font-size="8" text-anchor="middle">0.<tspan dx="1.4">6</tspan></text>
<text x="445.5" y="629.8" font-size="8" text-anchor="middle">0.<tspan dx="1.4">8</tspan></text>
<text x="491.1" y="629.8" font-size="8" text-anchor="middle">1</text>
<text x="536.7" y="629.8" font-size="8" text-anchor="middle">1.<tspan dx="1.4">2</tspan></text>
<text x="318" y="479" font-size="8" text-anchor="end">0.<tspan dx="1.4">3</tspan></text>
<text x="318" y="496.2" font-size="8" text-anchor="end">0.<tspan dx="1.4">25</tspan></text>
<text x="318" y="513.4" font-size="8" text-anchor="end">0.<tspan dx="1.4">2</tspan></text>
<text x="318" y="530.6" font-size="8" text-anchor="end">0.<tspan dx="1.4">15</tspan></text>
<text x="318" y="547.8" font-size="8" text-anchor="end">0.<tspan dx="1.4">1</tspan></text>
<text x="318" y="565" font-size="8" text-anchor="end">0.<tspan dx="1.4">05</tspan></text>
<text x="318" y="582.2" font-size="8" text-anchor="end">0</text>
<text x="318" y="599.4" font-size="8" text-anchor="end">-0.<tspan dx="1.4">05</tspan></text>
<text x="318" y="616.6" font-size="8" text-anchor="end">-0.<tspan dx="1.4">1</tspan></text>
<text x="433" y="641.5" font-size="8" text-anchor="middle">Z<tspan dx="1">'</tspan><tspan dx="1.2">（</tspan><tspan dx="1">Ω</tspan><tspan dx="1">）</tspan></text>
<text transform="translate(294.9 538.5) rotate(-90)" font-size="8" text-anchor="middle">-Z<tspan dx="1">'</tspan><tspan dx="2.4">'</tspan><tspan dx="1.2">（</tspan><tspan dx="1">Ω</tspan><tspan dx="1">）</tspan></text>
</g>
<text x="426.1" y="655.2" font-family='"Liberation Serif",serif' font-size="11.3" text-anchor="middle" fill="#000">(<tspan font-weight="bold">f</tspan>)</text>
<rect x="416.2" y="566.3" width="123.3" height="52.7" fill="#fff" stroke="#5a5a5a" stroke-width="0.7"/>
<g font-family='"Liberation Sans","Noto Sans CJK SC",sans-serif' font-size="6.4" fill="#111">
<path d="M417.9 570.7h14.6" stroke="#FF00FF" stroke-width="1.4"/>
<text x="434" y="572.9" textLength="22.9" lengthAdjust="spacingAndGlyphs">SOC=100%</text>
<path d="M417.9 578.1h14.6" stroke="#0000FF" stroke-width="1.4"/>
<text x="434" y="580.3" textLength="20" lengthAdjust="spacingAndGlyphs">SOC=95%</text>
<path d="M417.9 585.5h14.6" stroke="#000000" stroke-width="1.4"/>
<text x="434" y="587.7" textLength="20" lengthAdjust="spacingAndGlyphs">SOC=90%</text>
<path d="M417.9 592.9h14.6" stroke="#FF0000" stroke-width="1.4"/>
<text x="434" y="595.1" textLength="20" lengthAdjust="spacingAndGlyphs">SOC=85%</text>
<path d="M417.9 600.3h14.6" stroke="#FF99DD" stroke-width="1.4"/>
<text x="434" y="602.5" textLength="20" lengthAdjust="spacingAndGlyphs">SOC=80%</text>
<path d="M417.9 607.7h14.6" stroke="#6B8E6B" stroke-width="1.4"/>
<text x="434" y="609.9" textLength="20" lengthAdjust="spacingAndGlyphs">SOC=75%</text>
<path d="M417.9 615.1h14.6" stroke="#FFE4C4" stroke-width="1.4"/>
<text x="434" y="617.3" textLength="20" lengthAdjust="spacingAndGlyphs">SOC=70%</text>
<path d="M461.3 570.7h14.6" stroke="#00FF00" stroke-width="1.4"/>
<text x="477.4" y="572.9" textLength="20" lengthAdjust="spacingAndGlyphs">SOC=65%</text>
<path d="M461.3 578.1h14.6" stroke="#00E0D0" stroke-width="1.4"/>
<text x="477.4" y="580.3" textLength="20" lengthAdjust="spacingAndGlyphs">SOC=60%</text>
<path d="M461.3 585.5h14.6" stroke="#B8651B" stroke-width="1.4"/>
<text x="477.4" y="587.7" textLength="20" lengthAdjust="spacingAndGlyphs">SOC=55%</text>
<path d="M461.3 592.9h14.6" stroke="#FF7F50" stroke-width="1.4"/>
<text x="477.4" y="595.1" textLength="17.1" lengthAdjust="spacingAndGlyphs">SOC=50</text>
<path d="M461.3 600.3h14.6" stroke="#D02CF0" stroke-width="1.4"/>
<text x="477.4" y="602.5" textLength="20" lengthAdjust="spacingAndGlyphs">SOC=45%</text>
<path d="M461.3 607.7h14.6" stroke="#FFC0CB" stroke-width="1.4"/>
<text x="477.4" y="609.9" textLength="20" lengthAdjust="spacingAndGlyphs">SOC=40%</text>
<path d="M461.3 615.1h14.6" stroke="#FA8072" stroke-width="1.4"/>
<text x="477.4" y="617.3" textLength="20" lengthAdjust="spacingAndGlyphs">SOC=35%</text>
<path d="M500.5 570.7h14.6" stroke="#F2C318" stroke-width="1.4"/>
<text x="516.6" y="572.9" textLength="20" lengthAdjust="spacingAndGlyphs">SOC=30%</text>
<path d="M500.5 578.1h14.6" stroke="#B22222" stroke-width="1.4"/>
<text x="516.6" y="580.3" textLength="20" lengthAdjust="spacingAndGlyphs">SOC=25%</text>
<path d="M500.5 585.5h14.6" stroke="#D08C8C" stroke-width="1.4"/>
<text x="516.6" y="587.7" textLength="20" lengthAdjust="spacingAndGlyphs">SOC=20%</text>
<path d="M500.5 592.9h14.6" stroke="#2255CC" stroke-width="1.4"/>
<text x="516.6" y="595.1" textLength="20" lengthAdjust="spacingAndGlyphs">SOC=15%</text>
<path d="M500.5 600.3h14.6" stroke="#20B2AA" stroke-width="1.4"/>
<text x="516.6" y="602.5" textLength="20" lengthAdjust="spacingAndGlyphs">SOC=10%</text>
<path d="M500.5 607.7h14.6" stroke="#0A640A" stroke-width="1.4"/>
<text x="516.6" y="609.9" textLength="17.1" lengthAdjust="spacingAndGlyphs">SOC=5%</text>
<path d="M500.5 615.1h14.6" stroke="#B57BEE" stroke-width="1.4"/>
<text x="516.6" y="617.3" textLength="17.1" lengthAdjust="spacingAndGlyphs">SOC=0%</text>
</g>
<clipPath id="cg"><rect x="180.4" y="688.6" width="218.4" height="158.6"/></clipPath>
<g clip-path="url(#cg)" fill="none" stroke-width="1.3" stroke-linejoin="round" stroke-linecap="butt">
<path d="M184.1 842.3C184.1 840.4 184.3 834.1 184.5 830.8C184.7 827.5 184.8 824.8 185.2 822.3C185.5 819.8 185.8 818.1 186.6 816C187.4 813.9 187.8 812.5 189.9 809.5C191.9 806.5 195.5 802.4 198.9 798C202.3 793.6 206.5 787.5 210.3 783.3C214.1 779.1 218.2 775.5 221.8 772.7C225.4 769.9 229 768 232 766.4C235 764.8 237.3 763.8 240 763C242.7 762.2 245.3 761.6 248 761.6C250.7 761.6 253.2 761.7 256 763C258.8 764.3 262 766.5 265 769.5C268 772.5 271.3 777.1 274 781C276.7 784.9 278.8 792.2 281 793C283.2 793.8 283.8 789.8 287 786C290.2 782.2 295.3 776 300 770C304.7 764 310 756.6 315 750C320 743.4 327.5 733.8 330 730.5" stroke="#FF00FF"/>
<path d="M184.4 842.8C184.4 840.9 184.6 834.6 184.8 831.3C185 828 185.1 825.3 185.5 822.8C185.8 820.3 186.1 818.6 186.9 816.5C187.7 814.4 188.1 813 190.2 810C192.2 807 195.8 802.9 199.2 798.5C202.6 794.1 206.8 788 210.6 783.8C214.4 779.6 218.5 776.1 222.1 773.2C225.6 770.3 229 768 232 766.2C235 764.5 237.5 763.6 240.2 762.7C242.9 761.8 245.7 761.1 248.4 761.1C251.1 761.1 253.9 761.5 256.6 762.7C259.3 763.9 262.1 766.1 264.7 768.5C267.3 770.9 269.9 773.9 272 777C274.1 780.1 275.7 784.5 277 787C278.3 789.5 278.8 791.7 280 792C281.2 792.3 282.7 790.5 284 789C285.3 787.5 283.7 788.7 288 783C292.3 777.3 305 761.3 310 755C315 748.7 313.4 750.1 318 745C322.6 739.9 334.5 728 337.8 724.6" stroke="#0000FF"/>
<path d="M184.7 843.3C184.7 841.4 184.9 835.1 185.1 831.8C185.3 828.4 185.4 825.7 185.8 823.3C186.1 820.8 186.4 819.1 187.2 817C188 814.8 188.4 813.5 190.5 810.5C192.5 807.5 196.1 803.3 199.5 799C202.9 794.6 207.1 788.5 210.9 784.3C214.7 780.1 218.8 776.7 222.4 773.7C225.9 770.6 229.1 768 232 766.1C234.9 764.2 237.2 763.3 240 762.3C242.8 761.3 246 760.3 249 760.3C252 760.2 255 760.6 258 762C261 763.4 264 765.5 267 768.5C270 771.5 273.3 775.9 276 780C278.7 784.1 281 792.2 283 793C285 793.8 285.2 788.8 288 785C290.8 781.2 295 778.4 300 770.5C305 762.6 312.6 747.5 318 737.7C323.4 728 327.9 720.3 332.7 712C337.5 703.7 344.4 691.8 346.8 687.8" stroke="#000000"/>
<path d="M184.1 842.3C184.1 840.4 184.3 834.1 184.5 830.8C184.7 827.5 184.8 824.8 185.2 822.3C185.5 819.8 185.8 818.1 186.6 816C187.4 813.9 187.8 812.5 189.9 809.5C191.9 806.5 195.5 802.4 198.9 798C202.3 793.6 206.5 787.5 210.3 783.3C214.1 779.1 218.2 775.6 221.8 772.7C225.4 769.8 229 767.7 232 765.9C235 764.2 237.1 763.1 240 762C242.9 760.9 246.3 759.7 249.5 759.6C252.7 759.5 255.9 760 259 761.3C262.1 762.6 264.8 764.4 268 767.5C271.2 770.6 275 775.4 278 780C281 784.6 283.7 793.2 286 795C288.3 796.8 289.7 793.3 292 791C294.3 788.7 297 786.7 300 781C303 775.3 307 765.3 310 757C313 748.7 315.5 738.8 318 731C320.5 723.2 322.7 717.2 325 710C327.3 702.8 330.8 691.5 332 687.8" stroke="#FF0000"/>
<path d="M184.4 842.8C184.4 840.9 184.6 834.6 184.8 831.3C185 828 185.1 825.3 185.5 822.8C185.8 820.3 186.1 818.6 186.9 816.5C187.7 814.4 188.1 813 190.2 810C192.2 807 195.8 802.9 199.2 798.5C202.6 794.1 206.8 788 210.6 783.8C214.4 779.6 218.5 776.2 222.1 773.2C225.6 770.2 229 767.7 232 765.8C235 763.9 237 762.9 240 761.8C243 760.7 246.7 759.2 250 759C253.3 758.8 256.7 759.1 260 760.5C263.3 761.9 266.7 764.1 270 767.5C273.3 770.9 277.2 776.6 280 781C282.8 785.4 284.8 792.7 287 794C289.2 795.3 290 793.8 293 789C296 784.2 300.8 773.8 305 765C309.2 756.2 313.8 745.8 318 736C322.2 726.2 328 711 330 706" stroke="#FF99DD"/>
<path d="M184.7 843.3C184.7 841.4 184.9 835.1 185.1 831.8C185.3 828.4 185.4 825.7 185.8 823.3C186.1 820.8 186.4 819.1 187.2 817C188 814.8 188.4 813.5 190.5 810.5C192.5 807.5 196.1 803.3 199.5 799C202.9 794.6 207.1 788.5 210.9 784.3C214.7 780.1 218.8 776.8 222.4 773.7C225.9 770.6 229.1 767.7 232 765.6C234.9 763.6 237 762.8 240 761.6C243 760.4 246.7 758.8 250 758.5C253.3 758.2 256.7 758.5 260 759.8C263.3 761 266.8 762.8 270 766C273.2 769.2 276.3 774.7 279 779C281.7 783.3 284 791 286 792C288 793 289 788.5 291 785C293 781.5 295.7 776.5 298 771C300.3 765.5 302.8 758.5 305 752C307.2 745.5 308.8 738.8 311 732C313.2 725.2 315.7 717.9 318 711C320.3 704.1 323.8 694.2 325 690.8" stroke="#6B8E6B"/>
<path d="M184.1 842.3C184.1 840.4 184.3 834.1 184.5 830.8C184.7 827.5 184.8 824.8 185.2 822.3C185.5 819.8 185.8 818.1 186.6 816C187.4 813.9 187.8 812.5 189.9 809.5C191.9 806.5 195.5 802.4 198.9 798C202.3 793.6 206.5 787.5 210.3 783.3C214.1 779.1 218.2 775.7 221.8 772.7C225.4 769.7 229 767.4 232 765.5C235 763.6 236.9 762.6 240 761.4C243.1 760.1 247 758.4 250.5 758C254 757.6 257.6 757.9 261 759.2C264.4 760.5 267.7 762.5 271 766C274.3 769.5 278.2 775.5 281 780C283.8 784.5 285.8 792 288 793C290.2 794 291.2 791.5 294 786C296.8 780.5 300.7 771.8 305 760C309.3 748.2 317.5 722.5 320 715" stroke="#FFE4C4"/>
<path d="M184.4 842.8C184.4 840.9 184.6 834.6 184.8 831.3C185 828 185.1 825.3 185.5 822.8C185.8 820.3 186.1 818.6 186.9 816.5C187.7 814.4 188.1 813 190.2 810C192.2 807 195.8 802.9 199.2 798.5C202.6 794.1 206.8 788 210.6 783.8C214.4 779.6 218.5 776.3 222.1 773.2C225.6 770.1 229 767.4 232 765.4C235 763.3 236.8 762.4 240 761C243.2 759.6 247.5 757.6 251 757C254.5 756.4 258.2 756.7 261 757.5C263.8 758.3 265.8 760.1 268 762C270.2 763.9 271.8 765.5 274 769C276.2 772.5 278.7 777.7 281 783C283.3 788.3 286.2 798.3 288 801C289.8 803.7 290.7 800.8 292 799C293.3 797.2 294.5 794.2 296 790C297.5 785.8 299.4 779.4 301 774C302.6 768.6 303.6 764 305.5 757.7C307.4 751.4 311.5 739.6 312.7 736" stroke="#00FF00"/>
<path d="M184.7 843.3C184.7 841.4 184.9 835.1 185.1 831.8C185.3 828.4 185.4 825.7 185.8 823.3C186.1 820.8 186.4 819.1 187.2 817C188 814.8 188.4 813.5 190.5 810.5C192.5 807.5 196.1 803.3 199.5 799C202.9 794.6 207.1 788.5 210.9 784.3C214.7 780.1 218.8 776.9 222.4 773.7C225.9 770.5 229.1 767.3 232 765.2C234.9 763.1 236.8 762.2 240 760.8C243.2 759.3 247.3 757.1 251 756.5C254.7 755.9 258.5 756 262 757.3C265.5 758.5 268.7 760.4 272 764C275.3 767.6 279 773.5 282 779C285 784.5 287.8 794.8 290 797C292.2 799.2 292.5 796.8 295 792C297.5 787.2 301.3 777 305 768C308.7 759 313.3 747.3 317 738C320.7 728.7 325.6 716.6 327.3 712.3" stroke="#00E0D0"/>
<path d="M184.1 842.3C184.1 840.4 184.3 834.1 184.5 830.8C184.7 827.5 184.8 824.8 185.2 822.3C185.5 819.8 185.8 818.1 186.6 816C187.4 813.9 187.8 812.5 189.9 809.5C191.9 806.5 195.5 802.4 198.9 798C202.3 793.6 206.5 787.5 210.3 783.3C214.1 779.1 218.2 775.7 221.8 772.7C225.4 769.7 229 767.1 232 765C235 763 236.8 762.1 240 760.6C243.2 759.1 247.7 756.7 251.5 756C255.3 755.3 259.4 755.4 263 756.5C266.6 757.6 269.7 758.9 273 762.5C276.3 766.1 280 772.1 283 778C286 783.9 288.8 795.7 291 798C293.2 800.3 293.7 797.5 296 792C298.3 786.5 302 774.8 305 765C308 755.2 311.2 743.2 314 733C316.8 722.8 320.5 708.8 321.8 704" stroke="#B8651B"/>
<path d="M184.4 842.8C184.4 840.9 184.6 834.6 184.8 831.3C185 828 185.1 825.3 185.5 822.8C185.8 820.3 186.1 818.6 186.9 816.5C187.7 814.4 188.1 813 190.2 810C192.2 807 195.8 802.9 199.2 798.5C202.6 794.1 206.8 788 210.6 783.8C214.4 779.6 218.5 776.3 222.1 773.2C225.6 770 229 767 232 764.9C235 762.8 236.7 761.9 240 760.3C243.3 758.6 248 755.8 252 755C256 754.2 260.2 754.2 264 755.3C267.8 756.4 271.3 757.7 275 761.5C278.7 765.3 282.8 772.1 286 778C289.2 783.9 291.8 794.7 294 797C296.2 799.3 296.3 796.3 299 792C301.7 787.7 306.2 778.5 310 771C313.8 763.5 318.1 754.4 322 747C325.9 739.6 331.7 729.9 333.6 726.5" stroke="#FF7F50"/>
<path d="M184.7 843.3C184.7 841.4 184.9 835.1 185.1 831.8C185.3 828.4 185.4 825.7 185.8 823.3C186.1 820.8 186.4 819.1 187.2 817C188 814.8 188.4 813.5 190.5 810.5C192.5 807.5 196.1 803.3 199.5 799C202.9 794.6 207.1 788.5 210.9 784.3C214.7 780.1 218.8 776.9 222.4 773.7C225.9 770.4 229.1 767 232 764.8C234.9 762.5 236.7 761.7 240 760C243.3 758.3 247.7 755.3 252 754.5C256.3 753.7 261.7 753.9 266 755C270.3 756.1 274.7 758.7 278 761C281.3 763.3 283.5 764.7 286 769C288.5 773.3 290.7 781 293 787C295.3 793 298 803.5 300 805C302 806.5 302.7 802.7 305 796C307.3 789.3 311.2 773.2 314 765C316.8 756.8 319.3 752.8 322 747C324.7 741.2 328.7 732.8 330 730" stroke="#D02CF0"/>
<path d="M184.1 842.3C184.1 840.4 184.3 834.1 184.5 830.8C184.7 827.5 184.8 824.8 185.2 822.3C185.5 819.8 185.8 818.1 186.6 816C187.4 813.9 187.8 812.5 189.9 809.5C191.9 806.5 195.5 802.4 198.9 798C202.3 793.6 206.5 787.5 210.3 783.3C214.1 779.1 218.2 775.8 221.8 772.7C225.4 769.6 229 766.8 232 764.6C235 762.4 236.5 761.5 240 759.5C243.5 757.5 249 753.8 253 752.5C257 751.2 260.2 750.9 264 751.5C267.8 752.1 272.2 753.2 276 756C279.8 758.8 284.2 763.8 287 768C289.8 772.2 291.2 777.3 293 781C294.8 784.7 296.3 789.7 298 790C299.7 790.3 300.7 787.7 303 783C305.3 778.3 308.8 769 312 762C315.2 755 318.7 747.7 322 741C325.3 734.3 330.3 725.2 332 722" stroke="#FFC0CB"/>
<path d="M184.4 842.8C184.4 840.9 184.6 834.6 184.8 831.3C185 828 185.1 825.3 185.5 822.8C185.8 820.3 186.1 818.6 186.9 816.5C187.7 814.4 188.1 813 190.2 810C192.2 807 195.8 802.9 199.2 798.5C202.6 794.1 206.8 788 210.6 783.8C214.4 779.6 218.5 776.4 222.1 773.2C225.6 770 229 766.8 232 764.4C235 762.1 236.5 761.3 240 759C243.5 756.7 249 752.3 253 750.5C257 748.7 260.3 747.8 264 748C267.7 748.2 271.5 749.5 275 751.5C278.5 753.5 281.7 756.1 285 760C288.3 763.9 291.8 769.5 295 775C298.2 780.5 301.7 791 304 793C306.3 795 306.7 792.2 309 787C311.3 781.8 315 769.8 318 762C321 754.2 324 747 327 740C330 733 334.5 723.3 336 720" stroke="#FA8072"/>
<path d="M184.7 843.3C184.7 841.4 184.9 835.1 185.1 831.8C185.3 828.4 185.4 825.7 185.8 823.3C186.1 820.8 186.4 819.1 187.2 817C188 814.8 188.4 813.5 190.5 810.5C192.5 807.5 196.1 803.3 199.5 799C202.9 794.6 207.1 788.5 210.9 784.3C214.7 780.1 218.8 777 222.4 773.7C225.9 770.3 229.1 766.7 232 764.3C234.9 761.9 236.2 761.6 240 759C243.8 756.4 250 750.8 255 748.5C260 746.2 265.8 744.9 270 745C274.2 745.1 276.7 747 280 749C283.3 751 287 753 290 757C293 761 295.3 768 298 773C300.7 778 303.8 785.7 306 787C308.2 788.3 309 784.7 311 781C313 777.3 314.8 772.7 318 765C321.2 757.3 326 744.2 330 735C334 725.8 339.8 713.8 341.8 709.5" stroke="#F2C318"/>
<path d="M184.1 842.3C184.1 840.4 184.3 834.1 184.5 830.8C184.7 827.5 184.8 824.8 185.2 822.3C185.5 819.8 185.8 818.1 186.6 816C187.4 813.9 187.8 812.5 189.9 809.5C191.9 806.5 195.5 802.4 198.9 798C202.3 793.6 206.5 787.5 210.3 783.3C214.1 779.1 218.2 775.9 221.8 772.7C225.4 769.5 229 766.5 232 764.1C235 761.8 235.7 761.4 240 758.4C244.3 755.4 253.3 748.7 258 746C262.7 743.3 265 743 268 742.3C271 741.6 273.3 741.7 276 742C278.7 742.3 281 742.2 284 744C287 745.8 291 749.5 294 753C297 756.5 300 760.8 302 765C304 769.2 304.8 774.3 306 778C307.2 781.7 307.8 783.7 309 787C310.2 790.3 311.5 795.2 313 798C314.5 800.8 316.2 803.3 318 804C319.8 804.7 322.2 803.3 324 802C325.8 800.7 327.5 799 329 796C330.5 793 331.8 788.8 333 784C334.2 779.2 335.1 774 336.4 767C337.7 760 339.4 750.5 341 742C342.6 733.5 345.2 720.3 346 716" stroke="#B22222"/>
<path d="M184.4 842.8C184.4 840.9 184.6 834.6 184.8 831.3C185 828 185.1 825.3 185.5 822.8C185.8 820.3 186.1 818.6 186.9 816.5C187.7 814.4 188.1 813 190.2 810C192.2 807 195.8 802.9 199.2 798.5C202.6 794.1 206.8 788 210.6 783.8C214.4 779.6 218.5 776.5 222.1 773.2C225.6 769.9 229 766.6 232 764C235 761.4 235.7 761.3 240 757.8C244.3 754.3 253.3 746.5 258 743C262.7 739.5 265 738.3 268 737C271 735.7 272.3 734.8 276 735C279.7 735.2 285.3 735.7 290 738C294.7 740.3 300 744.5 304 749C308 753.5 311.5 760 314 765C316.5 770 317.4 774.5 319 779C320.6 783.5 322.1 788.8 323.6 792C325.1 795.2 326.5 797.1 328 798.5C329.5 799.9 331.2 800.6 332.7 800.5C334.2 800.4 335.8 799.4 337 798C338.2 796.6 338.8 795.3 340 792C341.2 788.7 342.8 783.2 344 778C345.2 772.8 345.8 767.3 347 761C348.2 754.7 349.7 747.1 351 740C352.3 732.9 354.3 722.2 355 718.6" stroke="#D08C8C"/>
<path d="M184.7 843.3C184.7 841.4 184.9 835.1 185.1 831.8C185.3 828.4 185.4 825.7 185.8 823.3C186.1 820.8 186.4 819.1 187.2 817C188 814.8 188.4 813.5 190.5 810.5C192.5 807.5 196.1 803.3 199.5 799C202.9 794.6 207.1 788.5 210.9 784.3C214.7 780.1 218.8 777.1 222.4 773.7C225.9 770.3 229.1 766.6 232 763.9C234.9 761.1 236 760.9 240 757.3C244 753.7 251 746.7 256 742.5C261 738.3 266.3 734.2 270 732C273.7 729.8 275.7 729.7 278 729C280.3 728.3 281 727.5 284 728C287 728.5 292.2 730.8 296 732C299.8 733.2 304.5 733.7 307 735C309.5 736.3 309.8 737.7 311 740C312.2 742.3 312.4 743.8 314.5 748.6C316.6 753.4 320.6 762.7 323.6 768.6C326.6 774.5 330.5 780.6 332.7 784C334.9 787.4 335.6 787.9 337 789C338.4 790.1 339.7 790.5 341 790.5C342.3 790.5 343.7 790.2 345 789C346.3 787.8 347.5 786 349 783C350.5 780 352.5 775.2 354 771C355.5 766.8 356.5 763.2 358 757.7C359.5 752.2 361.4 744.7 363 738C364.6 731.3 366.8 721.1 367.6 717.7" stroke="#2255CC"/>
<path d="M184.1 842.3C184.1 840.4 184.3 834.1 184.5 830.8C184.7 827.5 184.8 824.8 185.2 822.3C185.5 819.8 185.8 818.1 186.6 816C187.4 813.9 187.8 812.5 189.9 809.5C191.9 806.5 195.5 802.4 198.9 798C202.3 793.6 206.5 787.5 210.3 783.3C214.1 779.1 218.2 776 221.8 772.7C225.4 769.4 229 766.3 232 763.7C235 761.1 236 760.7 240 756.9C244 753.1 251 745.7 256 741C261 736.3 266 731.7 270 728.5C274 725.3 277 723.4 280 722C283 720.6 284.7 720 288 720C291.3 720 296.8 722.2 300 722C303.2 721.8 305 719.1 307 719C309 718.9 310.4 720.2 312 721.5C313.6 722.8 313.9 723.1 316.4 727C318.9 730.9 323.4 738.7 327 745C330.6 751.3 334.7 759.4 338 765C341.3 770.6 344.8 775.7 347 778.6C349.2 781.5 350.1 781.6 351.5 782.5C352.9 783.4 354.2 784.1 355.5 784C356.8 783.9 358.1 783.3 359.5 782C360.9 780.7 361.7 780.7 363.6 776C365.5 771.3 369 760.3 371 754C373 747.7 374 743.6 375.5 738C377 732.4 379.2 723.4 380 720.5" stroke="#20B2AA"/>
<path d="M184.4 842.8C184.4 840.9 184.6 834.6 184.8 831.3C185 828 185.1 825.3 185.5 822.8C185.8 820.3 186.1 818.6 186.9 816.5C187.7 814.4 188.1 813 190.2 810C192.2 807 195.8 802.9 199.2 798.5C202.6 794.1 206.8 788 210.6 783.8C214.4 779.6 218.5 776.6 222.1 773.2C225.6 769.8 229 766.3 232 763.5C235 760.8 236 760.5 240 756.6C244 752.7 251.3 744.6 256 740C260.7 735.4 264.5 732.3 268 729C271.5 725.7 274 722.7 277 720C280 717.3 282.5 714.8 286 713C289.5 711.2 294.5 710.3 298 709C301.5 707.7 304.5 705.3 307 705C309.5 704.7 310.8 705.8 313 707C315.2 708.2 316.7 709 320 712C323.3 715 328.4 720.1 332.7 725C336.9 729.9 341.3 736.7 345.5 741.4C349.7 746.1 354.9 750.6 358 753C361.1 755.4 362 755.4 364 756C366 756.6 367.9 757.5 370 756.8C372.1 756.1 374.6 754.3 376.4 752C378.2 749.7 379.5 746.3 381 743C382.5 739.7 383.4 737.6 385.5 732C387.6 726.4 392.2 713.2 393.6 709.5" stroke="#0A640A"/>
<path d="M184.7 843.3C184.7 841.4 184.9 835.1 185.1 831.8C185.3 828.4 185.4 825.7 185.8 823.3C186.1 820.8 186.4 819.1 187.2 817C188 814.8 188.4 813.5 190.5 810.5C192.5 807.5 196.1 803.3 199.5 799C202.9 794.6 207.1 788.5 210.9 784.3C214.7 780.1 218.8 777.2 222.4 773.7C225.9 770.2 228.5 766.8 232 763.4C235.5 760 238.9 757.5 243.5 753C248.1 748.5 255.1 741.7 259.8 736.5C264.6 731.3 268 726.8 272 722C276 717.2 280.5 711.2 284 708C287.5 704.8 290 704.5 293 703C296 701.5 299.3 701 302 699C304.7 697 306.3 691.8 309 690.8C311.7 689.8 314.1 691.5 318 693C321.9 694.5 327.8 696.6 332.7 699.5C337.6 702.4 342.1 706.2 347.3 710.5C352.5 714.8 358.2 720.8 363.6 725C369.1 729.2 376.3 733.8 380 736C383.7 738.2 384.3 738 386 738.5C387.7 739 388.7 739.1 390 739C391.3 738.9 392.9 738.5 394 738C395.1 737.5 395.5 737.5 396.4 736C397.3 734.5 399 730.2 399.5 729" stroke="#B57BEE"/>
</g>
<rect x="180.4" y="688.6" width="218.4" height="158.6" fill="none" stroke="#7c7c7c" stroke-width="1"/>
<path d="M206.7 847.2v-2.7 M206.7 688.6v2.7M250.8 847.2v-2.7 M250.8 688.6v2.7M294.9 847.2v-2.7 M294.9 688.6v2.7M339 847.2v-2.7 M339 688.6v2.7M383.1 847.2v-2.7 M383.1 688.6v2.7M180.4 711.9h2.7 M398.8 711.9h-2.7M180.4 739.5h2.7 M398.8 739.5h-2.7M180.4 766.7h2.7 M398.8 766.7h-2.7M180.4 794.2h2.7 M398.8 794.2h-2.7M180.4 821.6h2.7 M398.8 821.6h-2.7" stroke="#4a4a4a" stroke-width="0.7" fill="none"/>
<g fill="#262626" font-family='"Liberation Sans","Noto Sans CJK SC",sans-serif'>
<text x="206.7" y="858.3" font-size="8" text-anchor="middle">0.<tspan dx="1.4">4</tspan></text>
<text x="250.8" y="858.3" font-size="8" text-anchor="middle">0.<tspan dx="1.4">6</tspan></text>
<text x="294.9" y="858.3" font-size="8" text-anchor="middle">0.<tspan dx="1.4">8</tspan></text>
<text x="339" y="858.3" font-size="8" text-anchor="middle">1</text>
<text x="383.1" y="858.3" font-size="8" text-anchor="middle">1.<tspan dx="1.4">2</tspan></text>
<text x="176.9" y="714.8" font-size="8" text-anchor="end">0.<tspan dx="1.4">2</tspan></text>
<text x="176.9" y="742.4" font-size="8" text-anchor="end">0.<tspan dx="1.4">15</tspan></text>
<text x="176.9" y="769.6" font-size="8" text-anchor="end">0.<tspan dx="1.4">1</tspan></text>
<text x="176.9" y="797.1" font-size="8" text-anchor="end">0.<tspan dx="1.4">05</tspan></text>
<text x="176.9" y="824.5" font-size="8" text-anchor="end">0</text>
<text x="292.1" y="869" font-size="8" text-anchor="middle">Z<tspan dx="1">'</tspan><tspan dx="1.2">（</tspan><tspan dx="1">Ω</tspan><tspan dx="1">）</tspan></text>
<text transform="translate(158.1 767.3) rotate(-90)" font-size="8" text-anchor="middle">-Z<tspan dx="1">'</tspan><tspan dx="2.4">'</tspan><tspan dx="1.2">（</tspan><tspan dx="1">Ω</tspan><tspan dx="1">）</tspan></text>
</g>
<text x="285.2" y="882.9" font-family='"Liberation Serif",serif' font-size="11.3" text-anchor="middle" fill="#000">(<tspan font-weight="bold">g</tspan>)</text>
<rect x="292.4" y="805.7" width="105.8" height="41.4" fill="#fff" stroke="#5a5a5a" stroke-width="0.7"/>
<g font-family='"Liberation Sans","Noto Sans CJK SC",sans-serif' font-size="4.8" fill="#111">
<path d="M294.3 809.3h14.5" stroke="#FF00FF" stroke-width="1.3"/>
<text x="310.3" y="811" textLength="17.3" lengthAdjust="spacingAndGlyphs">SOC=100%</text>
<path d="M294.3 815h14.5" stroke="#0000FF" stroke-width="1.3"/>
<text x="310.3" y="816.7" textLength="15.1" lengthAdjust="spacingAndGlyphs">SOC=95%</text>
<path d="M294.3 820.7h14.5" stroke="#000000" stroke-width="1.3"/>
<text x="310.3" y="822.4" textLength="15.1" lengthAdjust="spacingAndGlyphs">SOC=90%</text>
<path d="M294.3 826.4h14.5" stroke="#FF0000" stroke-width="1.3"/>
<text x="310.3" y="828.1" textLength="15.1" lengthAdjust="spacingAndGlyphs">SOC=85%</text>
<path d="M294.3 832.1h14.5" stroke="#FF99DD" stroke-width="1.3"/>
<text x="310.3" y="833.8" textLength="15.1" lengthAdjust="spacingAndGlyphs">SOC=80%</text>
<path d="M294.3 837.8h14.5" stroke="#6B8E6B" stroke-width="1.3"/>
<text x="310.3" y="839.5" textLength="15.1" lengthAdjust="spacingAndGlyphs">SOC=75%</text>
<path d="M294.3 843.5h14.5" stroke="#FFE4C4" stroke-width="1.3"/>
<text x="310.3" y="845.2" textLength="15.1" lengthAdjust="spacingAndGlyphs">SOC=70%</text>
<path d="M331.2 809.3h14.5" stroke="#00FF00" stroke-width="1.3"/>
<text x="347.2" y="811" textLength="15.1" lengthAdjust="spacingAndGlyphs">SOC=65%</text>
<path d="M331.2 815h14.5" stroke="#00E0D0" stroke-width="1.3"/>
<text x="347.2" y="816.7" textLength="15.1" lengthAdjust="spacingAndGlyphs">SOC=60%</text>
<path d="M331.2 820.7h14.5" stroke="#B8651B" stroke-width="1.3"/>
<text x="347.2" y="822.4" textLength="15.1" lengthAdjust="spacingAndGlyphs">SOC=55%</text>
<path d="M331.2 826.4h14.5" stroke="#FF7F50" stroke-width="1.3"/>
<text x="347.2" y="828.1" textLength="12.9" lengthAdjust="spacingAndGlyphs">SOC=50</text>
<path d="M331.2 832.1h14.5" stroke="#D02CF0" stroke-width="1.3"/>
<text x="347.2" y="833.8" textLength="15.1" lengthAdjust="spacingAndGlyphs">SOC=45%</text>
<path d="M331.2 837.8h14.5" stroke="#FFC0CB" stroke-width="1.3"/>
<text x="347.2" y="839.5" textLength="15.1" lengthAdjust="spacingAndGlyphs">SOC=40%</text>
<path d="M331.2 843.5h14.5" stroke="#FA8072" stroke-width="1.3"/>
<text x="347.2" y="845.2" textLength="15.1" lengthAdjust="spacingAndGlyphs">SOC=35%</text>
<path d="M365.6 809.3h14.5" stroke="#F2C318" stroke-width="1.3"/>
<text x="381.6" y="811" textLength="15.1" lengthAdjust="spacingAndGlyphs">SOC=30%</text>
<path d="M365.6 815h14.5" stroke="#B22222" stroke-width="1.3"/>
<text x="381.6" y="816.7" textLength="15.1" lengthAdjust="spacingAndGlyphs">SOC=25%</text>
<path d="M365.6 820.7h14.5" stroke="#D08C8C" stroke-width="1.3"/>
<text x="381.6" y="822.4" textLength="15.1" lengthAdjust="spacingAndGlyphs">SOC=20%</text>
<path d="M365.6 826.4h14.5" stroke="#2255CC" stroke-width="1.3"/>
<text x="381.6" y="828.1" textLength="15.1" lengthAdjust="spacingAndGlyphs">SOC=15%</text>
<path d="M365.6 832.1h14.5" stroke="#20B2AA" stroke-width="1.3"/>
<text x="381.6" y="833.8" textLength="15.1" lengthAdjust="spacingAndGlyphs">SOC=10%</text>
<path d="M365.6 837.8h14.5" stroke="#0A640A" stroke-width="1.3"/>
<text x="381.6" y="839.5" textLength="12.9" lengthAdjust="spacingAndGlyphs">SOC=5%</text>
<path d="M365.6 843.5h14.5" stroke="#B57BEE" stroke-width="1.3"/>
<text x="381.6" y="845.2" textLength="12.9" lengthAdjust="spacingAndGlyphs">SOC=0%</text>
</g>
</svg></body></html>
